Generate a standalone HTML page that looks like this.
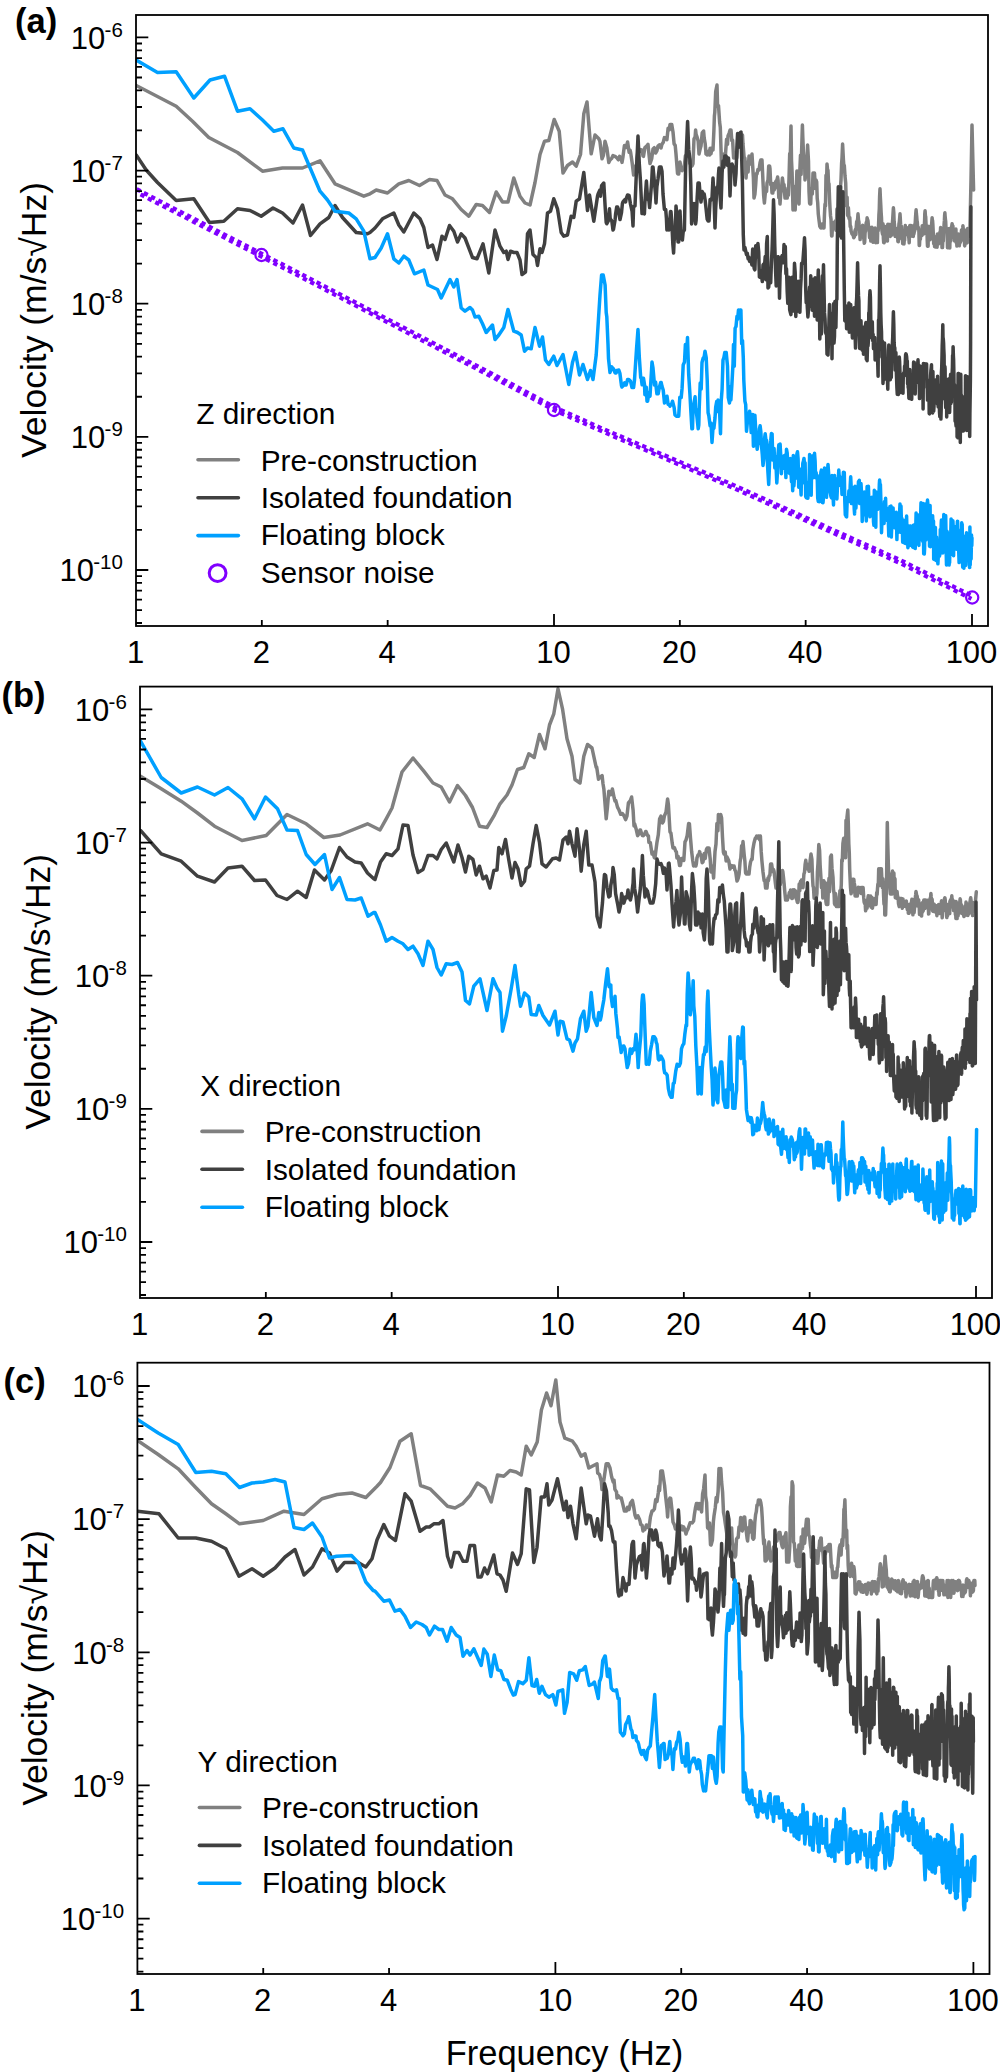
<!DOCTYPE html>
<html><head><meta charset="utf-8"><style>html,body{margin:0;padding:0;background:#fff;width:1000px;height:2072px;overflow:hidden}svg{display:block}</style></head>
<body>
<svg width="1000" height="2072" viewBox="0 0 1000 2072" font-family='"Liberation Sans", sans-serif' fill="#000">
<rect width="1000" height="2072" fill="#fff"/>
<clipPath id="clipa"><rect x="136.0" y="15.0" width="852.0" height="611.0"/></clipPath>
<g clip-path="url(#clipa)">
<polyline points="136.2,85.5 176.2,106.2 192.5,121.2 208.8,137.5 237.5,152.5 262.5,171.2 282.5,168.0 302.5,168.0 320.0,160.8 335.0,183.8 363.8,196.2 370.0,193.8 376.2,190.0 387.5,193.0 398.8,183.8 408.8,180.5 419.5,185.5 429.5,179.5 437.0,180.5 445.0,195.0 452.5,198.8 461.2,209.5 468.8,216.2 476.2,204.5 482.5,205.5 489.5,212.5 496.2,192.0 502.5,202.0 508.0,202.0 513.8,178.0 520.0,196.2 525.0,203.0 530.0,205.0 535.0,182.5 540.0,154.5 544.5,141.2 548.8,140.5 554.2,119.5 559.2,131.2 563.0,173.0 567.5,165.5 572.5,162.0 576.2,166.2 580.5,154.5 583.8,113.8 587.0,102.0 591.2,153.8 595.0,135.0 598.8,138.8 599.9,141.2 602.0,158.8 603.4,155.3 605.0,141.2 606.8,147.6 608.8,162.5 610.0,160.0 611.8,158.2 613.0,155.6 613.5,155.8 615.1,156.4 617.0,158.0 618.3,159.8 619.6,156.4 621.5,160.0 622.0,162.4 623.0,156.6 624.4,145.6 626.1,147.5 627.6,142.0 629.1,152.2 630.0,150.0 630.6,152.2 632.1,162.4 633.6,175.0 635.0,166.1 636.5,165.5 637.0,158.0 637.9,152.1 639.3,152.0 640.0,150.0 640.7,149.5 642.1,150.1 643.0,156.0 643.5,156.3 644.9,147.6 646.3,146.5 648.0,144.4 649.0,154.7 650.0,163.6 651.7,158.7 653.0,149.0 654.3,147.7 655.6,153.0 656.9,150.8 658.0,146.0 659.4,144.8 661.0,148.0 662.0,144.1 663.2,142.5 664.4,137.6 666.0,138.0 666.9,139.7 668.1,128.3 669.3,129.9 670.0,124.4 670.5,124.4 671.7,124.4 673.0,132.0 674.1,143.9 675.2,145.4 676.0,154.0 677.5,173.2 678.0,174.0 678.7,174.0 680.0,162.0 681.0,168.0 682.1,170.7 683.0,168.0 684.3,166.5 685.4,155.7 686.0,156.0 686.5,156.4 687.6,155.7 689.0,154.0 689.8,163.3 690.8,164.6 692.0,166.0 693.0,163.7 694.0,138.8 695.1,137.0 695.6,130.0 696.1,134.4 697.1,137.1 698.2,141.3 699.0,154.0 700.2,148.8 701.0,146.0 702.2,132.8 703.6,131.0 704.2,138.1 705.2,143.7 706.0,154.0 707.2,155.0 708.1,153.0 709.1,150.8 709.6,155.0 710.1,148.2 711.0,153.8 712.0,147.9 713.0,150.0 713.9,130.6 714.4,116.0 714.8,112.6 715.7,91.6 717.0,85.0 717.6,106.4 718.5,105.6 719.6,122.0 720.3,127.2 721.6,168.0 722.1,157.3 723.0,164.6 723.9,153.9 725.0,162.0 725.7,151.2 726.6,139.2 727.5,144.4 728.0,136.0 729.2,133.1 730.1,130.0 731.0,130.0 731.8,140.6 732.6,140.1 733.6,158.0 734.3,158.0 735.1,155.4 736.0,157.3 736.4,154.0 736.8,158.0 737.6,146.4 738.5,145.2 739.6,134.0 740.1,134.0 740.9,134.0 741.7,142.7 742.5,135.1 743.0,144.0 744.1,157.2 744.9,158.1 746.0,178.0 746.5,171.2 747.3,162.0 748.1,171.9 749.0,156.0 749.6,161.8 750.4,163.9 751.2,161.1 752.0,154.0 752.7,166.2 753.4,177.9 754.0,198.0 754.9,194.4 755.7,184.5 756.4,173.4 757.0,174.0 757.9,169.6 759.0,170.0 760.1,162.4 760.8,160.0 761.6,161.6 762.0,160.0 763.0,181.8 763.7,196.1 764.4,203.0 765.2,194.2 765.9,189.5 766.6,191.3 767.0,183.0 768.0,180.0 768.7,166.0 769.6,166.0 770.0,168.8 770.7,184.6 771.4,183.0 772.0,193.0 772.8,193.0 773.5,183.7 774.1,190.1 775.0,188.0 775.5,182.2 776.2,180.9 776.8,180.7 777.6,177.0 778.1,180.6 778.8,197.6 779.5,194.0 780.0,204.0 780.8,193.2 781.4,189.4 782.4,178.0 783.4,186.0 784.0,184.5 785.0,198.0 785.9,198.0 786.5,198.0 787.2,198.0 788.0,188.0 788.4,195.2 789.0,178.9 789.7,153.5 790.3,156.5 791.0,126.0 791.5,160.4 792.1,172.3 793.0,210.0 793.9,195.6 794.5,187.2 795.2,210.0 795.6,186.0 796.3,188.4 796.9,170.9 797.5,173.8 798.1,200.1 799.0,204.0 799.9,168.7 800.5,155.2 801.1,174.5 801.6,152.3 802.4,125.0 802.8,137.1 803.4,151.3 804.0,159.7 804.5,156.5 805.0,180.0 805.7,175.1 806.2,162.7 806.8,165.9 807.6,145.0 808.5,161.2 809.0,191.2 809.6,203.2 810.0,204.0 810.7,204.0 811.2,191.2 811.8,188.5 812.3,193.9 813.0,173.0 813.4,180.8 814.0,185.5 814.5,173.0 815.1,183.1 815.6,188.6 816.0,180.0 816.7,181.8 817.2,198.3 817.7,202.6 818.3,214.1 819.0,220.0 819.8,226.3 820.4,227.2 820.9,228.0 821.4,228.0 822.0,224.0 822.4,225.2 823.0,228.0 823.5,228.0 824.0,228.0 824.5,213.6 825.0,204.0 825.5,205.9 826.0,175.3 826.5,184.6 827.0,164.0 827.5,169.5 828.0,170.2 828.5,182.7 829.0,183.9 829.6,200.0 830.0,207.8 830.5,215.7 831.0,219.2 831.6,236.0 832.0,236.0 832.5,225.1 833.0,227.1 833.5,222.4 834.0,226.7 834.4,228.0 834.9,223.9 835.4,221.0 835.9,230.2 836.4,229.3 836.9,209.0 837.3,222.0 838.0,216.0 838.8,206.5 839.2,209.1 839.7,205.8 840.2,190.6 841.0,180.0 841.6,163.5 842.0,158.2 842.6,144.0 843.4,159.5 843.9,166.7 844.3,165.4 845.0,176.0 845.7,183.0 846.2,201.6 846.6,206.1 847.1,197.3 847.5,214.9 848.0,216.0 848.4,207.8 848.9,217.7 849.3,218.9 849.8,217.6 850.2,226.7 850.7,226.5 851.1,231.1 851.5,232.2 852.0,233.9 852.4,234.4 852.9,235.0 853.3,235.6 853.7,237.8 854.2,237.1 854.6,236.1 855.0,230.6 855.5,229.3 855.9,234.4 856.3,226.2 856.7,221.4 857.2,221.6 857.6,219.1 858.0,213.8 858.5,220.1 858.9,221.6 859.3,228.4 859.7,230.7 860.1,239.6 860.6,232.0 861.0,229.5 861.4,231.1 861.8,236.5 862.2,233.0 862.6,225.3 863.1,229.2 863.5,237.2 863.9,239.0 864.3,243.3 864.7,242.0 865.1,231.9 865.5,231.7 865.9,224.9 866.3,222.3 866.7,223.5 867.1,217.8 867.6,219.8 868.0,220.9 868.4,225.6 868.8,226.7 869.2,231.0 869.6,237.6 870.0,235.0 870.4,233.3 870.8,241.1 871.1,239.9 871.5,231.3 871.9,227.3 872.3,239.3 872.7,240.3 873.1,242.3 873.5,239.8 873.9,236.7 874.3,233.1 874.7,233.5 875.1,228.0 875.4,235.2 875.8,242.7 876.2,236.1 876.6,241.5 877.0,242.6 877.4,242.6 877.7,228.9 878.1,231.0 878.5,227.5 878.9,215.1 879.3,208.8 879.6,196.5 880.0,188.8 880.4,198.1 880.8,205.6 881.1,212.0 881.5,217.9 881.9,230.3 882.3,233.0 882.6,234.4 883.0,223.8 883.4,238.7 883.7,242.6 884.1,242.7 884.5,241.5 884.9,227.2 885.2,226.5 885.6,238.5 886.0,233.3 886.3,233.4 886.7,234.3 887.0,239.0 887.4,241.1 887.8,224.3 888.1,228.0 888.5,235.0 888.8,224.4 889.2,224.4 889.6,224.5 889.9,236.1 890.3,236.4 890.6,228.7 891.0,226.4 891.3,235.4 891.7,226.1 892.0,226.6 892.4,223.1 892.7,219.2 893.1,212.7 893.4,207.8 893.8,212.4 894.1,221.5 894.5,224.7 894.8,235.2 895.2,236.3 895.5,228.0 895.9,230.4 896.2,231.3 896.6,232.3 896.9,232.2 897.3,237.7 897.6,235.1 897.9,241.5 898.3,241.7 898.6,229.3 899.0,223.7 899.3,222.2 899.6,218.9 900.0,213.8 900.3,218.7 900.6,224.2 901.0,226.6 901.3,226.0 901.7,238.9 902.0,230.7 902.3,235.3 902.7,243.7 903.0,243.8 903.3,234.0 903.6,236.5 904.0,243.9 904.3,239.5 904.6,240.2 905.0,227.1 905.3,225.5 905.6,234.5 905.9,227.5 906.3,231.7 906.6,227.6 906.9,234.6 907.3,232.6 907.6,228.4 907.9,231.2 908.2,234.9 908.5,235.1 908.9,238.5 909.2,242.8 909.5,233.1 909.8,225.5 910.1,225.5 910.5,236.5 910.8,225.5 911.1,225.5 911.4,227.6 911.7,234.8 912.0,235.4 912.4,230.6 912.7,227.4 913.0,226.0 913.3,236.4 913.6,233.3 913.9,233.9 914.2,232.1 914.6,230.9 914.9,224.1 915.2,223.7 915.5,217.8 915.8,213.3 916.1,209.8 916.4,213.8 916.7,216.5 917.0,220.6 917.3,221.8 917.6,226.3 918.0,228.9 918.3,227.3 918.6,229.1 918.9,231.5 919.2,245.4 919.5,245.4 919.8,238.8 920.1,229.9 920.4,239.3 920.7,229.9 921.0,235.2 921.3,234.4 921.6,234.1 921.9,235.6 922.2,225.7 922.5,226.5 922.8,227.9 923.1,233.8 923.4,227.6 923.7,233.9 924.0,233.8 924.3,226.6 924.6,220.7 924.8,213.6 925.1,210.8 925.4,215.7 925.7,216.7 926.0,223.9 926.3,229.0 926.6,225.8 926.9,225.8 927.2,239.8 927.5,246.2 927.8,246.3 928.1,246.3 928.3,234.2 928.6,226.4 928.9,228.8 929.2,230.7 929.5,232.0 929.8,226.5 930.1,239.8 930.4,227.6 930.6,234.8 930.9,232.5 931.2,225.2 931.5,225.7 931.8,222.0 932.1,217.8 932.3,219.7 932.6,220.7 932.9,225.0 933.2,231.5 933.5,236.8 933.7,243.7 934.0,242.9 934.3,243.1 934.6,246.6 934.9,236.8 935.1,246.0 935.4,247.0 935.7,241.5 936.0,245.2 936.3,245.8 936.5,241.6 936.8,238.4 937.1,247.2 937.4,234.1 937.6,237.7 937.9,240.2 938.2,243.9 938.4,244.0 938.7,237.8 939.0,237.7 939.3,237.1 939.5,240.5 939.8,233.8 940.1,231.6 940.3,235.7 940.6,227.6 940.9,243.3 941.2,243.2 941.4,232.7 941.7,232.6 942.0,247.6 942.2,247.6 942.5,247.6 942.8,240.3 943.0,236.1 943.3,241.2 943.6,234.9 943.8,231.0 944.1,224.0 944.4,220.4 944.6,215.7 944.9,212.8 945.1,215.8 945.4,219.1 945.7,221.5 945.9,226.1 946.2,231.3 946.5,229.2 946.7,231.5 947.0,230.8 947.2,232.4 947.5,247.8 947.8,244.4 948.0,234.8 948.3,228.8 948.5,239.3 948.8,239.6 949.1,243.1 949.3,228.5 949.6,230.0 949.8,248.0 950.1,234.2 950.3,235.3 950.6,238.5 950.8,240.9 951.1,235.8 951.4,231.7 951.6,227.6 951.9,225.0 952.1,223.8 952.4,225.8 952.6,225.7 952.9,225.9 953.1,229.3 953.4,232.5 953.6,237.1 953.9,236.4 954.1,237.4 954.4,235.2 954.6,241.0 954.9,231.5 955.1,237.2 955.4,239.9 955.6,234.9 955.9,229.1 956.1,234.7 956.4,243.1 956.6,239.4 956.9,246.1 957.1,245.3 957.4,238.3 957.6,238.8 957.8,239.6 958.1,236.7 958.3,233.9 958.6,237.4 958.8,240.6 959.1,237.1 959.3,245.8 959.6,241.4 959.8,243.3 960.0,239.2 960.3,241.5 960.5,242.1 960.8,235.5 961.0,241.0 961.2,235.2 961.5,230.1 961.7,235.5 962.0,232.6 962.2,231.9 962.4,229.9 962.7,227.9 962.9,225.8 963.2,228.3 963.4,231.5 963.6,233.8 963.9,233.3 964.1,232.0 964.4,237.6 964.6,245.5 964.8,245.8 965.1,234.6 965.3,237.0 965.5,239.6 965.8,233.0 966.0,238.0 966.2,230.1 966.5,242.6 966.7,230.6 966.9,241.6 967.2,242.9 967.4,233.3 967.6,228.5 967.9,232.6 968.1,233.8 968.3,235.8 968.6,228.6 968.8,231.2 969.0,234.0 969.3,236.2 969.5,230.1 969.7,233.4 969.9,231.2 971.0,180.0 972.0,125.0 973.6,190.0" fill="none" stroke="#808080" stroke-width="3.5" stroke-linejoin="round" stroke-linecap="round"/>
<polyline points="136.2,155.0 146.2,170.0 157.5,182.5 176.2,200.5 193.8,198.8 209.5,222.5 223.8,221.2 237.5,208.8 250.0,210.5 261.2,216.2 273.0,208.0 282.5,213.0 293.0,223.0 302.5,205.0 310.5,235.5 320.0,223.8 328.8,217.5 335.0,205.5 342.5,217.5 356.2,232.5 367.5,233.8 370.0,232.5 375.0,228.0 382.5,218.8 393.8,213.0 398.8,225.0 403.8,232.0 413.8,213.0 420.0,218.8 423.8,227.5 428.0,247.5 432.5,245.0 437.0,259.5 442.0,236.2 445.0,239.5 449.5,225.5 453.8,231.2 457.5,242.0 461.2,233.8 465.0,238.0 472.5,257.5 477.0,258.8 483.0,243.8 488.8,273.0 495.0,230.0 500.0,246.2 503.8,252.5 506.2,251.2 508.0,259.5 510.5,251.2 513.8,252.5 517.0,252.5 520.0,260.0 522.0,274.5 525.5,272.0 527.5,233.8 530.0,230.0 533.0,254.5 536.2,257.5 537.5,265.5 540.0,248.8 542.0,252.5 544.5,243.8 547.5,213.0 550.5,211.2 553.8,198.8 557.5,208.8 561.2,232.5 563.8,236.2 567.5,235.0 571.2,216.2 573.8,217.5 576.2,201.2 579.5,198.8 583.8,172.5 587.5,210.5 589.5,195.0 593.8,221.2 597.5,196.2 598.1,194.0 599.9,190.1 600.5,196.2 601.6,185.6 603.8,183.0 605.1,205.8 606.2,222.5 606.8,223.8 608.5,220.5 609.5,208.8 610.2,218.8 611.8,220.8 613.0,230.0 613.5,229.3 615.1,219.7 615.6,214.0 616.7,207.0 617.6,207.0 618.3,209.1 620.0,219.6 621.5,212.7 622.4,203.6 623.0,201.8 624.6,199.9 625.6,202.0 626.1,198.9 627.6,195.0 629.1,195.4 630.4,203.6 632.1,211.5 633.0,226.0 633.6,206.6 635.0,206.0 636.5,169.5 638.0,136.0 639.3,163.9 640.4,180.0 642.0,213.6 643.5,209.0 644.4,214.0 644.9,202.6 646.4,181.0 647.6,198.5 649.0,201.0 649.6,207.6 650.3,199.3 651.7,181.5 652.4,167.0 653.0,167.0 654.4,182.0 655.6,195.3 656.0,203.0 656.9,186.7 658.0,179.0 659.4,167.0 661.0,167.0 662.0,171.4 663.0,194.0 664.4,209.3 665.7,209.4 666.4,218.0 666.9,230.0 668.1,228.1 669.0,230.0 670.5,211.6 671.0,211.6 671.7,220.7 672.9,244.9 673.6,253.0 674.1,241.0 675.2,235.5 676.0,206.0 677.5,220.8 678.0,242.0 678.7,242.0 680.0,211.0 681.0,234.8 682.4,240.0 683.2,231.7 684.4,230.0 685.6,168.0 686.5,148.4 687.6,121.6 688.7,149.4 690.0,160.0 690.8,184.7 691.6,224.0 693.0,214.9 694.0,203.6 695.1,204.0 695.6,224.0 696.1,220.5 697.1,198.9 698.0,183.0 699.2,183.0 700.2,195.9 701.0,202.0 702.2,191.5 703.6,194.0 704.2,194.0 705.2,200.6 706.0,208.0 707.2,219.2 708.1,221.0 709.0,221.0 710.1,199.4 711.0,200.0 712.0,198.4 713.0,178.0 713.9,194.7 715.0,228.0 715.7,208.2 717.0,187.0 717.6,191.0 718.5,173.9 719.0,168.0 719.4,176.0 720.3,199.5 721.0,208.0 722.1,172.9 723.0,161.0 723.9,167.2 724.8,156.0 726.0,156.0 726.6,157.5 727.5,165.2 728.4,158.0 729.2,168.4 730.0,196.0 730.9,172.7 732.0,164.0 732.6,165.4 733.5,168.7 734.3,168.8 735.0,185.0 736.0,173.6 737.0,145.0 737.6,133.4 738.5,147.4 739.6,138.0 740.1,132.8 741.0,132.0 741.7,158.3 742.4,182.0 743.3,235.0 744.0,250.0 744.9,247.3 746.5,254.7 747.3,253.3 748.1,258.8 748.8,257.1 749.6,261.3 750.4,260.8 751.2,261.7 751.9,265.0 752.7,249.1 753.4,261.8 754.2,268.6 754.9,269.8 755.7,245.8 756.4,257.1 757.2,252.3 757.9,243.5 758.7,251.8 759.4,277.0 760.1,277.3 760.8,270.8 761.6,276.3 762.3,281.6 763.0,265.0 763.7,264.0 764.4,267.9 765.2,256.5 765.9,279.7 766.6,244.0 767.3,236.5 768.0,288.1 768.7,287.1 769.4,278.4 770.0,275.1 770.7,282.7 771.4,262.4 772.1,249.1 772.8,227.3 773.5,199.8 774.1,214.4 774.8,246.3 775.5,269.0 776.2,285.9 776.8,274.7 777.5,259.0 778.1,256.7 778.8,258.3 779.5,298.3 780.1,273.0 780.8,264.0 781.4,257.2 782.1,255.6 782.7,262.7 783.4,260.4 784.0,244.6 784.6,262.9 785.3,246.6 785.9,273.8 786.5,268.8 787.2,291.6 787.8,303.3 788.4,300.4 789.0,277.3 789.7,309.9 790.3,312.2 790.9,314.6 791.5,304.1 792.1,277.3 792.7,299.6 793.3,311.1 793.9,287.1 794.5,263.3 795.2,273.0 795.8,316.4 796.3,298.1 796.9,288.9 797.5,311.2 798.1,281.2 798.7,297.8 799.3,302.4 799.9,312.3 800.5,288.9 801.1,278.9 801.6,263.3 802.2,263.8 802.8,262.7 803.4,254.5 804.0,246.2 804.5,237.8 805.1,250.7 805.7,289.3 806.2,302.6 806.8,297.5 807.4,308.9 807.9,316.9 808.5,309.8 809.0,295.6 809.6,287.1 810.1,306.2 810.7,275.7 811.2,285.2 811.8,295.4 812.3,310.2 812.9,305.8 813.4,279.3 814.0,297.7 814.5,316.2 815.1,277.8 815.6,292.6 816.1,305.2 816.7,307.8 817.2,319.9 817.7,287.5 818.3,269.9 818.8,289.8 819.3,295.0 819.8,338.9 820.4,324.8 820.9,299.9 821.4,334.0 821.9,292.7 822.4,275.7 823.0,283.3 823.5,264.8 824.0,289.1 824.5,312.9 825.0,318.8 825.5,332.1 826.0,333.8 826.5,330.1 827.0,354.0 827.5,354.5 828.0,355.0 828.5,339.5 829.0,320.6 829.5,304.6 830.0,332.0 830.5,342.9 831.0,334.0 831.5,316.1 832.0,358.7 832.5,312.9 833.0,335.3 833.5,303.7 834.0,343.0 834.5,336.1 834.9,301.6 835.4,313.1 835.9,327.5 836.4,300.2 836.9,299.2 837.3,243.9 837.8,216.6 838.3,186.8 838.8,215.3 839.2,234.6 839.7,235.6 840.2,219.0 840.6,186.8 841.1,222.2 841.6,238.1 842.0,236.6 842.5,224.5 843.0,191.8 843.4,222.8 843.9,260.3 844.3,290.7 844.8,320.7 845.3,321.1 845.7,305.7 846.2,313.4 846.6,328.8 847.1,324.0 847.5,322.8 848.0,317.8 848.4,313.5 848.9,303.1 849.3,332.3 849.8,314.2 850.2,304.3 850.7,304.7 851.1,315.4 851.5,317.6 852.0,328.3 852.4,337.9 852.9,315.6 853.3,324.6 853.7,310.1 854.2,307.8 854.6,308.5 855.0,330.2 855.5,348.1 855.9,330.0 856.3,303.9 856.7,297.7 857.2,279.1 857.6,262.8 858.0,279.9 858.5,295.9 858.9,300.6 859.3,336.3 859.7,348.5 860.1,320.2 860.6,324.1 861.0,320.8 861.4,340.0 861.8,348.5 862.2,350.2 862.6,343.3 863.1,337.2 863.5,354.2 863.9,327.0 864.3,330.3 864.7,342.4 865.1,335.6 865.5,325.4 865.9,322.4 866.3,359.2 866.7,356.2 867.1,360.7 867.6,342.7 868.0,346.0 868.4,340.9 868.8,312.7 869.2,312.1 869.6,297.7 870.0,290.8 870.4,297.0 870.8,320.5 871.1,336.3 871.5,337.8 871.9,331.2 872.3,321.8 872.7,340.6 873.1,334.3 873.5,348.7 873.9,348.4 874.3,342.4 874.7,337.5 875.1,359.9 875.4,351.6 875.8,346.5 876.2,344.3 876.6,353.7 877.0,344.8 877.4,358.8 877.7,362.0 878.1,376.2 878.5,320.1 878.9,322.2 879.3,307.4 879.6,284.0 880.0,265.8 880.4,287.0 880.8,313.5 881.1,324.3 881.5,331.5 881.9,357.2 882.3,341.1 882.6,358.9 883.0,383.5 883.4,376.8 883.7,361.2 884.1,359.6 884.5,342.9 884.9,350.0 885.2,378.9 885.6,367.6 886.0,359.3 886.3,372.2 886.7,368.6 887.0,372.3 887.4,378.5 887.8,389.2 888.1,366.5 888.5,356.6 888.8,344.9 889.2,363.4 889.6,376.4 889.9,371.9 890.3,379.7 890.6,376.0 891.0,365.7 891.3,377.4 891.7,354.0 892.0,359.7 892.4,343.2 892.7,337.8 893.1,322.8 893.4,311.8 893.8,324.2 894.1,342.2 894.5,349.0 894.8,347.8 895.2,370.1 895.5,367.8 895.9,352.6 896.2,368.0 896.6,379.2 896.9,387.6 897.3,394.3 897.6,390.9 897.9,392.6 898.3,394.6 898.6,378.8 899.0,369.3 899.3,357.0 899.6,361.4 900.0,372.9 900.3,384.9 900.6,381.1 901.0,382.0 901.3,392.6 901.7,378.3 902.0,386.7 902.3,380.2 902.7,384.6 903.0,393.3 903.3,374.3 903.6,373.1 904.0,375.4 904.3,375.7 904.6,366.0 905.0,369.9 905.3,361.9 905.6,354.7 905.9,353.8 906.3,354.7 906.6,356.5 906.9,360.6 907.3,361.1 907.6,383.9 907.9,381.1 908.2,387.6 908.5,388.0 908.9,398.3 909.2,398.4 909.5,398.5 909.8,369.6 910.1,396.2 910.5,382.0 910.8,376.1 911.1,391.5 911.4,397.8 911.7,399.3 912.0,382.5 912.4,391.9 912.7,390.6 913.0,389.7 913.3,376.9 913.6,362.0 913.9,377.9 914.2,362.2 914.6,376.4 914.9,377.9 915.2,394.0 915.5,372.0 915.8,383.3 916.1,372.3 916.4,377.5 916.7,366.2 917.0,371.5 917.3,373.7 917.6,364.9 918.0,359.8 918.3,367.3 918.6,373.7 918.9,378.1 919.2,384.4 919.5,398.6 919.8,379.9 920.1,365.9 920.4,378.3 920.7,378.5 921.0,388.2 921.3,387.2 921.6,374.8 921.9,390.4 922.2,383.7 922.5,391.2 922.8,375.3 923.1,408.9 923.4,363.6 923.7,369.1 924.0,363.7 924.3,363.8 924.6,370.4 924.8,363.8 925.1,376.3 925.4,378.0 925.7,374.9 926.0,364.0 926.3,368.4 926.6,364.1 926.9,387.8 927.2,384.6 927.5,400.1 927.8,380.1 928.1,387.5 928.3,397.1 928.6,391.0 928.9,385.8 929.2,413.6 929.5,413.8 929.8,394.6 930.1,407.1 930.4,383.7 930.6,375.6 930.9,370.8 931.2,367.9 931.5,364.7 931.8,388.8 932.1,387.6 932.3,408.7 932.6,412.9 932.9,371.4 933.2,385.9 933.5,394.7 933.7,411.2 934.0,405.9 934.3,394.8 934.6,383.7 934.9,381.3 935.1,388.8 935.4,379.9 935.7,397.2 936.0,393.8 936.3,397.8 936.5,385.6 936.8,383.2 937.1,383.1 937.4,403.9 937.6,376.3 937.9,392.1 938.2,407.0 938.4,394.5 938.7,385.0 939.0,403.0 939.3,401.6 939.5,412.2 939.8,416.6 940.1,414.4 940.3,400.9 940.6,405.4 940.9,419.1 941.2,409.1 941.4,373.0 941.7,368.2 942.0,356.4 942.2,345.8 942.5,338.0 942.8,324.8 943.0,337.3 943.3,339.1 943.6,343.2 943.8,349.3 944.1,355.5 944.4,399.1 944.6,382.5 944.9,366.5 945.1,368.8 945.4,401.0 945.7,407.6 945.9,398.9 946.2,379.2 946.5,387.1 946.7,417.0 947.0,401.4 947.2,384.5 947.5,394.6 947.8,408.0 948.0,396.5 948.3,382.6 948.5,378.9 948.8,393.8 949.1,384.3 949.3,403.7 949.6,412.4 949.8,406.5 950.1,384.0 950.3,381.4 950.6,374.3 950.8,403.6 951.1,389.2 951.4,402.2 951.6,381.6 951.9,381.2 952.1,374.1 952.4,367.3 952.6,355.3 952.9,356.7 953.1,346.8 953.4,356.1 953.6,359.6 953.9,374.2 954.1,394.1 954.4,384.3 954.6,385.1 954.9,389.6 955.1,421.0 955.4,421.5 955.6,406.8 955.9,424.2 956.1,426.2 956.4,420.9 956.6,402.0 956.9,405.0 957.1,437.0 957.4,425.5 957.6,437.8 957.8,426.7 958.1,373.5 958.3,396.7 958.6,373.6 958.8,407.0 959.1,374.2 959.3,414.7 959.6,395.2 959.8,417.8 960.0,416.0 960.3,442.6 960.5,404.4 960.8,374.3 961.0,408.9 961.2,394.4 961.5,405.1 961.7,407.4 962.0,402.1 962.2,399.5 962.4,420.1 962.7,396.8 962.9,402.2 963.2,417.7 963.4,431.0 963.6,416.3 963.9,402.4 964.1,400.0 964.4,406.9 964.6,423.9 964.8,417.3 965.1,409.8 965.3,415.8 965.5,375.8 965.8,375.9 966.0,376.0 966.2,404.3 966.5,384.8 966.7,430.4 966.9,393.9 967.2,410.3 967.4,418.0 967.6,376.8 967.9,382.1 968.1,404.8 968.3,393.4 968.6,388.4 968.8,406.7 969.0,421.5 969.3,407.9 969.5,412.8 969.7,436.5 969.9,413.9 970.2,394.4 970.4,379.8 970.6,342.1 970.9,206.8" fill="none" stroke="#404040" stroke-width="3.5" stroke-linejoin="round" stroke-linecap="round"/>
<polyline points="136.2,60.0 157.5,72.5 176.2,71.8 193.8,98.0 210.0,80.0 224.5,76.2 237.5,111.2 250.0,108.8 262.5,120.0 273.8,131.2 283.0,128.8 293.8,148.0 302.5,150.0 320.0,191.2 327.5,200.0 335.0,211.2 348.8,213.0 356.2,218.8 363.8,231.2 370.0,258.8 375.0,257.5 381.2,248.0 387.5,233.8 393.8,258.8 398.8,263.0 403.8,256.2 408.8,260.0 414.5,273.8 423.8,270.0 428.0,285.0 437.5,289.5 441.2,298.0 450.0,279.5 453.8,287.0 457.0,279.5 461.2,308.0 465.0,311.2 470.0,307.5 472.5,310.0 475.0,317.0 478.8,316.2 482.5,323.8 486.2,332.5 492.5,325.0 495.0,339.5 498.8,335.0 503.8,327.5 508.0,309.5 513.8,331.2 517.5,332.5 521.2,335.0 524.5,351.2 527.5,348.0 531.2,348.8 535.0,327.5 539.5,346.2 542.5,337.0 545.5,360.0 548.8,364.5 553.8,356.2 557.0,365.5 560.0,360.0 563.0,354.5 565.5,367.5 568.8,384.5 572.5,362.5 575.5,352.5 579.5,375.0 583.0,364.5 587.5,379.5 590.5,370.5 593.0,379.5 596.2,355.0 600.0,295.0 601.6,275.0 603.2,275.0 605.1,285.0 606.2,312.5 606.8,316.7 608.0,343.8 608.5,358.6 610.0,372.5 611.8,366.9 613.0,368.8 613.5,368.8 615.1,373.0 616.2,373.0 616.7,370.4 618.3,370.1 618.8,370.0 619.9,373.2 621.5,385.7 622.0,387.0 623.0,385.8 624.6,382.9 625.0,385.0 626.1,385.1 627.6,379.5 628.8,379.5 630.6,381.3 632.0,387.5 633.6,387.5 634.5,380.0 635.0,372.0 636.5,349.3 638.0,329.5 639.3,357.2 640.7,377.6 641.2,377.5 642.1,384.8 643.5,378.2 644.5,384.5 644.9,394.7 646.3,387.3 647.0,401.2 647.6,401.2 649.0,392.2 650.0,396.2 652.0,362.0 653.0,368.1 654.5,385.0 655.6,382.2 656.9,393.8 657.5,393.8 658.2,393.7 659.4,387.2 660.7,382.5 661.2,382.5 662.0,386.4 663.2,390.0 664.5,403.0 665.7,399.4 667.0,396.2 668.1,404.2 669.3,404.9 670.0,406.2 670.5,404.8 671.7,403.8 672.5,401.2 674.1,407.4 675.0,415.0 676.4,416.2 677.5,416.2 678.0,416.2 678.7,416.2 679.8,397.3 681.2,397.5 682.1,388.2 683.2,364.9 684.5,362.0 685.4,344.4 686.5,356.3 687.5,337.5 688.7,374.7 690.0,395.5 690.8,410.4 691.9,428.8 692.5,428.8 693.0,410.2 694.0,403.1 695.1,396.8 695.5,408.0 696.1,410.2 697.1,418.2 698.2,428.8 698.8,425.0 699.2,408.7 700.2,383.0 701.2,389.0 702.0,362.5 703.2,358.0 704.2,356.8 705.0,351.2 706.2,357.5 707.2,380.1 708.1,412.9 708.8,415.5 710.1,425.7 711.0,423.2 712.0,442.5 712.9,429.4 713.9,428.2 715.0,418.0 715.7,407.1 716.7,401.6 717.6,411.6 718.0,400.0 718.5,405.0 719.4,407.0 720.5,433.8 721.2,401.4 722.1,389.1 723.0,360.0 723.9,357.6 724.8,352.5 725.7,354.2 726.2,352.5 727.5,366.2 728.3,397.6 729.5,403.0 730.1,386.7 730.9,399.9 731.8,386.2 733.0,363.8 733.5,344.6 734.3,366.2 735.1,328.2 736.0,326.5 737.0,316.2 737.6,319.4 738.5,310.0 739.3,315.6 740.1,310.0 740.5,310.0 740.9,310.0 741.7,343.6 742.5,340.6 743.3,357.8 743.8,380.0 744.9,401.2 745.7,404.6 746.5,431.3 747.3,423.1 748.1,420.2 748.8,415.8 749.6,411.3 750.4,416.5 751.2,432.6 751.9,423.0 752.7,414.6 753.4,446.3 754.2,439.2 754.9,415.2 755.7,429.5 756.4,442.2 757.2,449.3 757.9,443.1 758.7,443.6 759.4,428.8 760.1,425.8 760.8,431.3 761.6,446.9 762.3,454.7 763.0,465.5 763.7,459.0 764.4,439.7 765.2,433.7 765.9,439.6 766.6,440.4 767.3,461.0 768.0,473.2 768.7,484.4 769.4,467.4 770.0,446.5 770.7,440.9 771.4,433.5 772.1,433.9 772.8,460.1 773.5,455.8 774.1,448.5 774.8,467.9 775.5,456.4 776.2,469.6 776.8,482.9 777.5,471.8 778.1,453.7 778.8,444.8 779.5,454.1 780.1,444.1 780.8,457.1 781.4,473.7 782.1,463.3 782.7,457.5 783.4,465.4 784.0,455.8 784.6,468.4 785.3,455.0 785.9,477.6 786.5,449.2 787.2,453.1 787.8,464.8 788.4,459.2 789.0,472.8 789.7,473.5 790.3,458.4 790.9,470.0 791.5,481.7 792.1,474.7 792.7,490.8 793.3,455.6 793.9,485.9 794.5,477.6 795.2,478.8 795.8,460.1 796.3,466.0 796.9,453.9 797.5,451.8 798.1,458.9 798.7,487.2 799.3,473.1 799.9,478.5 800.5,483.8 801.1,495.0 801.6,468.7 802.2,483.2 802.8,463.2 803.4,461.3 804.0,458.4 804.5,464.4 805.1,462.8 805.7,496.5 806.2,497.6 806.8,497.9 807.4,488.2 807.9,498.3 808.5,482.1 809.0,487.2 809.6,454.6 810.1,477.3 810.7,474.0 811.2,495.2 811.8,456.1 812.3,456.0 812.9,477.8 813.4,472.4 814.0,466.5 814.5,453.2 815.1,460.8 815.6,477.8 816.1,472.4 816.7,478.4 817.2,475.5 817.7,498.0 818.3,501.5 818.8,489.8 819.3,501.8 819.8,481.2 820.4,479.5 820.9,472.1 821.4,470.1 821.9,491.8 822.4,502.6 823.0,502.7 823.5,497.1 824.0,479.9 824.5,468.0 825.0,472.9 825.5,493.0 826.0,494.1 826.5,497.3 827.0,485.7 827.5,471.4 828.0,464.4 828.5,471.6 829.0,479.7 829.5,486.4 830.0,491.2 830.5,493.8 831.0,496.7 831.5,497.9 832.0,475.5 832.5,484.1 833.0,495.3 833.5,505.0 834.0,479.0 834.5,475.6 834.9,498.0 835.4,497.1 835.9,493.5 836.4,491.9 836.9,498.9 837.3,490.2 837.8,478.3 838.3,479.4 838.8,470.1 839.2,476.0 839.7,479.5 840.2,481.2 840.6,485.7 841.1,477.6 841.6,483.5 842.0,494.4 842.5,483.4 843.0,480.6 843.4,472.2 843.9,488.1 844.3,472.6 844.8,501.3 845.3,514.9 845.7,508.1 846.2,516.6 846.6,516.9 847.1,502.9 847.5,497.4 848.0,500.1 848.4,500.7 848.9,490.8 849.3,493.7 849.8,501.5 850.2,485.5 850.7,476.8 851.1,485.2 851.5,503.6 852.0,491.3 852.4,495.1 852.9,487.7 853.3,495.7 853.7,490.0 854.2,508.7 854.6,514.0 855.0,486.2 855.5,493.3 855.9,508.1 856.3,500.8 856.7,495.3 857.2,487.4 857.6,488.7 858.0,490.2 858.5,481.4 858.9,493.1 859.3,480.2 859.7,503.6 860.1,483.6 860.6,502.9 861.0,483.6 861.4,490.6 861.8,497.5 862.2,521.4 862.6,505.1 863.1,506.3 863.5,511.3 863.9,500.0 864.3,491.9 864.7,514.8 865.1,511.7 865.5,508.8 865.9,510.0 866.3,521.0 866.7,505.0 867.1,486.5 867.6,508.2 868.0,511.4 868.4,486.2 868.8,498.2 869.2,514.7 869.6,508.7 870.0,516.8 870.4,507.0 870.8,502.0 871.1,498.8 871.5,502.4 871.9,497.2 872.3,498.8 872.7,503.1 873.1,498.8 873.5,521.7 873.9,525.2 874.3,490.2 874.7,507.3 875.1,518.2 875.4,516.1 875.8,527.3 876.2,492.1 876.6,505.1 877.0,494.1 877.4,495.9 877.7,509.3 878.1,504.9 878.5,498.5 878.9,498.0 879.3,484.7 879.6,480.1 880.0,485.1 880.4,484.6 880.8,498.0 881.1,509.5 881.5,532.7 881.9,521.7 882.3,509.6 882.6,521.2 883.0,519.8 883.4,520.7 883.7,504.2 884.1,523.5 884.5,501.5 884.9,501.6 885.2,511.7 885.6,498.2 886.0,515.0 886.3,507.7 886.7,509.5 887.0,511.4 887.4,520.6 887.8,515.9 888.1,509.1 888.5,527.3 888.8,536.0 889.2,535.5 889.6,528.5 889.9,506.6 890.3,515.4 890.6,516.1 891.0,506.0 891.3,537.1 891.7,527.5 892.0,521.6 892.4,514.3 892.7,514.7 893.1,507.9 893.4,520.3 893.8,520.3 894.1,520.9 894.5,523.5 894.8,527.8 895.2,517.7 895.5,521.5 895.9,514.6 896.2,512.3 896.6,525.0 896.9,539.6 897.3,521.3 897.6,526.0 897.9,532.5 898.3,517.1 898.6,520.1 899.0,525.9 899.3,516.6 899.6,512.6 900.0,503.9 900.3,532.3 900.6,516.4 901.0,506.0 901.3,517.6 901.7,518.0 902.0,530.9 902.3,525.2 902.7,542.2 903.0,526.3 903.3,520.1 903.6,542.6 904.0,521.7 904.3,534.9 904.6,543.1 905.0,543.2 905.3,543.4 905.6,525.4 905.9,522.3 906.3,538.2 906.6,516.0 906.9,529.0 907.3,542.2 907.6,538.9 907.9,547.8 908.2,539.5 908.5,530.3 908.9,526.1 909.2,530.4 909.5,542.6 909.8,545.4 910.1,525.9 910.5,526.1 910.8,528.5 911.1,533.2 911.4,526.7 911.7,529.7 912.0,529.6 912.4,527.8 912.7,547.1 913.0,547.3 913.3,525.3 913.6,547.6 913.9,530.0 914.2,535.5 914.6,527.8 914.9,524.4 915.2,548.6 915.5,535.8 915.8,525.9 916.1,513.1 916.4,531.0 916.7,531.8 917.0,535.4 917.3,519.7 917.6,514.8 918.0,533.8 918.3,535.9 918.6,544.3 918.9,545.4 919.2,526.4 919.5,516.3 919.8,540.1 920.1,539.8 920.4,529.2 920.7,513.4 921.0,502.8 921.3,519.3 921.6,521.4 921.9,537.3 922.2,527.5 922.5,527.0 922.8,541.5 923.1,503.4 923.4,531.2 923.7,553.7 924.0,553.9 924.3,554.0 924.6,548.8 924.8,529.0 925.1,504.1 925.4,504.2 925.7,519.8 926.0,539.9 926.3,525.7 926.6,508.5 926.9,515.9 927.2,504.4 927.5,500.1 927.8,503.2 928.1,509.7 928.3,520.3 928.6,529.7 928.9,520.5 929.2,514.2 929.5,546.2 929.8,534.0 930.1,505.6 930.4,546.7 930.6,520.6 930.9,531.3 931.2,533.7 931.5,526.8 931.8,524.5 932.1,533.3 932.3,516.0 932.6,515.9 932.9,522.0 933.2,538.2 933.5,520.9 933.7,559.2 934.0,559.3 934.3,557.2 934.6,559.5 934.9,557.8 935.1,559.8 935.4,527.6 935.7,560.0 936.0,547.5 936.3,560.6 936.5,536.9 936.8,542.1 937.1,553.5 937.4,556.0 937.6,559.8 937.9,563.8 938.2,558.0 938.4,554.2 938.7,547.6 939.0,552.9 939.3,552.5 939.5,556.2 939.8,554.4 940.1,542.1 940.3,529.5 940.6,536.3 940.9,541.3 941.2,523.5 941.4,520.0 941.7,526.6 942.0,545.6 942.2,522.3 942.5,523.7 942.8,552.9 943.0,544.1 943.3,520.3 943.6,533.8 943.8,514.5 944.1,531.7 944.4,548.3 944.6,520.3 944.9,540.7 945.1,540.7 945.4,516.6 945.7,515.7 945.9,527.2 946.2,552.7 946.5,564.9 946.7,558.4 947.0,531.2 947.2,531.8 947.5,543.8 947.8,536.1 948.0,533.5 948.3,545.9 948.5,543.2 948.8,551.3 949.1,565.0 949.3,563.0 949.6,562.6 949.8,552.8 950.1,539.5 950.3,555.0 950.6,552.1 950.8,532.5 951.1,518.9 951.4,536.5 951.6,531.4 951.9,527.9 952.1,554.3 952.4,544.8 952.6,537.9 952.9,520.8 953.1,525.3 953.4,542.8 953.6,555.8 953.9,527.0 954.1,528.1 954.4,526.4 954.6,527.6 954.9,528.8 955.1,530.9 955.4,536.5 955.6,538.7 955.9,536.1 956.1,528.4 956.4,534.7 956.6,549.3 956.9,536.7 957.1,528.9 957.4,521.2 957.6,521.3 957.8,530.8 958.1,529.4 958.3,535.2 958.6,544.8 958.8,553.6 959.1,562.6 959.3,556.5 959.6,532.4 959.8,538.9 960.0,555.4 960.3,540.9 960.5,553.1 960.8,560.5 961.0,538.4 961.2,544.0 961.5,540.6 961.7,522.8 962.0,532.7 962.2,524.2 962.4,555.6 962.7,567.3 962.9,542.8 963.2,542.5 963.4,552.3 963.6,559.9 963.9,568.3 964.1,545.3 964.4,540.3 964.6,556.0 964.8,551.6 965.1,558.4 965.3,535.9 965.5,565.6 965.8,564.8 966.0,559.4 966.2,548.4 966.5,532.7 966.7,553.5 966.9,554.4 967.2,549.3 967.4,554.3 967.6,545.1 967.9,546.2 968.1,537.3 968.3,542.4 968.6,543.8 968.8,547.0 969.0,540.9 969.3,552.8 969.5,567.5 969.7,567.4 969.9,527.1 970.2,565.1 970.4,544.5 970.6,556.5 970.9,556.6 971.1,558.9 971.3,548.1 971.5,535.1 971.8,545.6 972.0,537.9" fill="none" stroke="#00A0FF" stroke-width="3.5" stroke-linejoin="round" stroke-linecap="round"/>
<polyline points="136.6,189.2 300.6,273.8 520.6,388.8 554.6,407.2 600.6,427.8 730.6,483.8 900.6,560.2 972.6,596.2" fill="none" stroke="#8000FF" stroke-width="4.2" stroke-dasharray="4.4 3.7" stroke-dashoffset="0"/>
<polyline points="135.4,191.8 299.4,276.2 519.4,391.2 553.4,409.8 599.4,430.2 729.4,486.2 899.4,562.8 971.4,598.8" fill="none" stroke="#8000FF" stroke-width="4.2" stroke-dasharray="4.4 3.9" stroke-dashoffset="2.5"/>
</g>
<circle cx="261.5" cy="255.0" r="6.1" fill="none" stroke="#8000FF" stroke-width="2.2"/>
<circle cx="554" cy="410" r="6.1" fill="none" stroke="#8000FF" stroke-width="2.2"/>
<circle cx="972.2" cy="597.5" r="6.1" fill="none" stroke="#8000FF" stroke-width="2.2"/>
<rect x="136.00" y="15.00" width="852.00" height="611.00" fill="none" stroke="#000" stroke-width="1.8"/>
<path d="M136.00 622.99h6.0 M136.00 610.08h6.0 M136.00 599.54h6.0 M136.00 590.63h6.0 M136.00 582.90h6.0 M136.00 576.09h6.0 M136.00 570.00h12.3 M136.00 529.92h6.0 M136.00 506.47h6.0 M136.00 489.84h6.0 M136.00 476.93h6.0 M136.00 466.39h6.0 M136.00 457.48h6.0 M136.00 449.75h6.0 M136.00 442.94h6.0 M136.00 436.85h12.3 M136.00 396.77h6.0 M136.00 373.32h6.0 M136.00 356.69h6.0 M136.00 343.78h6.0 M136.00 333.24h6.0 M136.00 324.33h6.0 M136.00 316.60h6.0 M136.00 309.79h6.0 M136.00 303.70h12.3 M136.00 263.62h6.0 M136.00 240.17h6.0 M136.00 223.54h6.0 M136.00 210.63h6.0 M136.00 200.09h6.0 M136.00 191.18h6.0 M136.00 183.45h6.0 M136.00 176.64h6.0 M136.00 170.55h12.3 M136.00 130.47h6.0 M136.00 107.02h6.0 M136.00 90.39h6.0 M136.00 77.48h6.0 M136.00 66.94h6.0 M136.00 58.03h6.0 M136.00 50.30h6.0 M136.00 43.49h6.0 M136.00 37.40h12.3 M261.83 626.00v-6 M387.66 626.00v-6 M554.00 626.00v-12 M679.83 626.00v-6 M805.66 626.00v-6 M972.00 626.00v-12" stroke="#000" stroke-width="1.8" fill="none"/>
<text x="122.80" y="569.20" font-size="20.5" text-anchor="end">-10</text>
<text x="93.88" y="581.30" font-size="31" text-anchor="end">10</text>
<text x="122.80" y="436.05" font-size="20.5" text-anchor="end">-9</text>
<text x="105.28" y="448.15" font-size="31" text-anchor="end">10</text>
<text x="122.80" y="302.90" font-size="20.5" text-anchor="end">-8</text>
<text x="105.28" y="315.00" font-size="31" text-anchor="end">10</text>
<text x="122.80" y="169.75" font-size="20.5" text-anchor="end">-7</text>
<text x="105.28" y="181.85" font-size="31" text-anchor="end">10</text>
<text x="122.80" y="36.60" font-size="20.5" text-anchor="end">-6</text>
<text x="105.28" y="48.70" font-size="31" text-anchor="end">10</text>
<text x="135.50" y="662.90" font-size="31" text-anchor="middle">1</text>
<text x="261.33" y="662.90" font-size="31" text-anchor="middle">2</text>
<text x="387.16" y="662.90" font-size="31" text-anchor="middle">4</text>
<text x="553.50" y="662.90" font-size="31" text-anchor="middle">10</text>
<text x="679.33" y="662.90" font-size="31" text-anchor="middle">20</text>
<text x="805.16" y="662.90" font-size="31" text-anchor="middle">40</text>
<text x="971.50" y="662.90" font-size="31" text-anchor="middle">100</text>
<text transform="translate(46.00,320.00) rotate(-90)" font-size="35.5" text-anchor="middle">Velocity (m/s√Hz)</text>
<text x="15.00" y="32.60" font-size="34.5" font-weight="bold">(a)</text>
<text x="196.20" y="424.00" font-size="29.8">Z direction</text>
<line x1="198.00" y1="459.80" x2="238.40" y2="459.80" stroke="#808080" stroke-width="3.6" stroke-linecap="round"/>
<text x="260.70" y="470.50" font-size="29.8">Pre-construction</text>
<line x1="198.00" y1="497.70" x2="238.40" y2="497.70" stroke="#404040" stroke-width="3.6" stroke-linecap="round"/>
<text x="260.70" y="507.90" font-size="29.8">Isolated foundation</text>
<line x1="198.00" y1="535.60" x2="238.40" y2="535.60" stroke="#00A0FF" stroke-width="3.6" stroke-linecap="round"/>
<text x="260.70" y="545.30" font-size="29.8">Floating block</text>
<circle cx="217.60" cy="573.10" r="8.4" fill="none" stroke="#8000FF" stroke-width="3"/>
<text x="260.70" y="582.70" font-size="29.8">Sensor noise</text>
<clipPath id="clipb"><rect x="140.0" y="686.6" width="852.0" height="611.4"/></clipPath>
<g clip-path="url(#clipb)">
<polyline points="140.5,776.2 160.0,788.0 181.2,801.2 197.5,813.0 214.5,826.2 242.0,840.5 266.2,835.5 287.0,814.5 306.2,823.8 323.8,837.5 340.0,835.0 367.5,823.8 380.0,830.0 386.2,818.8 392.0,808.0 397.0,790.0 402.0,772.0 413.0,758.0 423.8,771.2 433.0,783.0 441.2,787.0 449.5,802.0 457.5,785.5 465.5,795.5 472.5,807.5 479.5,826.2 487.0,827.5 493.8,816.2 500.0,803.8 507.0,795.0 512.0,785.0 517.5,769.5 523.8,767.5 528.8,753.8 534.2,757.5 539.5,734.5 545.0,748.8 549.5,725.0 553.8,713.8 558.0,688.8 562.5,708.8 567.0,738.8 572.0,756.2 575.0,779.5 580.0,783.0 583.8,756.2 587.5,744.5 592.0,748.0 596.2,767.5 596.7,767.2 598.5,779.2 600.3,777.0 602.1,775.5 603.0,783.8 603.9,789.3 605.6,810.8 606.2,818.8 607.4,807.6 608.8,791.2 610.8,794.7 612.4,789.0 614.2,798.0 615.0,801.0 615.8,800.6 617.5,807.1 619.0,810.0 620.7,814.3 622.4,813.6 623.9,815.6 625.6,819.6 627.0,815.8 628.4,803.0 630.1,801.0 631.6,797.0 633.1,810.2 634.0,826.0 634.6,823.7 636.1,828.9 637.6,835.6 639.0,833.8 640.0,830.0 640.5,830.0 641.9,834.5 642.4,835.6 643.3,835.7 644.7,833.9 645.6,831.6 646.1,831.6 647.5,835.3 648.4,836.0 648.9,842.3 650.3,842.4 652.0,854.0 653.0,852.1 654.3,857.5 655.0,858.0 655.7,852.1 657.0,842.1 658.3,834.8 659.6,819.0 660.9,816.1 662.4,823.0 663.4,821.6 664.4,816.0 666.0,812.1 667.6,799.0 668.4,804.4 670.0,832.0 670.9,832.9 672.1,842.4 673.0,848.0 674.5,847.7 675.7,851.2 676.4,852.0 676.9,857.9 678.1,856.4 679.6,865.6 680.4,865.6 681.5,858.5 683.0,859.0 683.8,860.4 685.0,841.9 686.0,840.0 687.2,835.5 688.6,823.6 689.4,823.7 690.5,838.2 691.0,844.0 691.6,851.3 692.7,860.3 693.6,866.0 694.8,864.1 695.9,866.0 696.4,863.6 697.0,857.8 698.0,855.0 699.1,854.0 699.6,851.6 700.1,853.3 701.1,855.7 702.2,862.7 703.0,862.0 704.2,853.4 705.2,858.5 706.4,849.6 707.2,848.0 708.2,848.0 709.0,848.0 710.2,859.0 711.0,872.0 712.1,866.1 713.1,872.7 713.6,878.0 714.1,868.2 715.0,851.6 716.0,844.0 716.9,823.5 717.9,830.7 718.4,814.4 718.8,818.0 719.7,822.0 720.7,814.4 721.6,818.0 722.5,837.4 723.4,852.1 724.0,854.0 725.2,852.0 726.1,860.9 727.0,857.0 727.6,858.4 728.8,860.8 730.0,869.0 730.6,867.6 731.5,865.6 732.3,867.1 733.0,866.0 734.1,866.0 734.9,870.2 735.6,871.0 737.0,881.0 737.5,880.3 738.3,878.0 739.1,874.1 740.0,862.8 740.4,859.6 740.8,858.1 741.6,845.8 742.5,847.6 743.0,841.6 744.1,853.9 744.9,861.4 745.6,873.0 746.5,874.0 747.3,872.1 748.1,874.0 749.0,874.0 749.7,867.0 750.5,862.2 751.6,859.0 752.1,859.3 752.8,849.9 754.0,843.0 755.2,838.4 755.9,837.8 756.7,836.0 757.6,838.0 758.2,836.0 758.9,836.0 759.7,839.8 760.4,836.0 761.2,851.4 761.9,860.8 763.0,872.0 764.1,880.6 764.8,880.1 765.6,888.0 766.3,886.2 767.0,888.0 768.0,878.0 768.4,880.6 769.2,875.7 769.9,875.3 770.6,864.0 771.6,864.0 772.7,871.4 773.4,869.4 774.0,871.0 774.7,877.0 775.4,883.2 776.0,888.0 776.8,888.0 777.5,883.5 778.1,888.0 778.8,888.0 779.6,882.0 780.2,884.6 780.8,881.4 781.5,879.3 782.4,870.4 782.8,871.5 783.5,877.6 784.1,883.5 784.8,892.0 785.6,900.0 786.1,900.0 786.7,898.9 787.4,900.0 788.0,895.9 788.6,897.3 789.3,892.6 790.0,896.0 790.5,890.1 791.2,894.8 791.8,898.6 792.4,898.4 793.0,889.7 793.7,896.2 794.2,889.7 794.9,893.0 795.5,890.9 796.1,898.5 796.7,899.3 797.4,902.4 797.9,902.4 798.5,898.5 799.2,884.1 799.8,890.6 800.5,881.3 800.9,882.8 801.5,880.0 802.1,887.4 803.0,887.6 803.9,874.1 804.5,872.4 805.1,864.6 805.8,860.3 806.2,865.5 806.8,863.9 807.4,866.2 808.0,869.3 808.5,868.7 809.1,871.3 809.7,865.3 810.2,860.0 811.0,854.0 811.9,859.4 812.5,877.1 813.0,885.9 813.5,887.6 814.1,898.2 814.7,897.9 815.2,898.2 815.8,896.4 816.3,898.2 816.9,893.6 817.4,872.2 818.0,863.0 818.8,844.6 819.6,850.6 820.1,864.5 820.7,874.0 821.5,887.6 822.3,883.5 822.8,897.9 823.3,882.9 823.8,880.7 824.7,883.4 825.4,882.8 825.9,901.4 826.4,904.5 827.0,904.5 827.8,904.5 828.5,885.5 829.0,878.3 829.5,891.7 830.0,874.0 830.5,857.0 831.4,855.0 832.0,868.4 832.5,872.3 833.0,877.4 833.5,889.5 834.1,894.0 834.5,903.7 835.0,904.9 835.5,893.5 836.0,896.8 836.5,906.6 837.3,906.6 838.0,899.7 838.5,906.6 838.9,906.6 839.4,901.6 839.9,890.7 840.4,896.0 840.9,890.5 841.3,884.8 841.8,859.7 842.3,861.2 842.9,843.5 843.7,838.3 844.2,838.4 845.0,852.0 845.6,857.7 846.0,820.2 846.5,828.5 847.0,817.4 847.8,810.0 848.3,823.0 848.8,843.5 849.3,853.4 849.7,869.7 850.5,887.6 851.1,893.8 851.5,879.2 852.0,891.9 852.4,886.4 853.0,879.2 853.8,879.2 854.2,882.7 854.7,885.5 855.1,896.0 855.5,889.7 856.2,896.0 856.9,896.0 857.3,896.0 857.7,892.2 858.2,887.3 858.6,892.7 859.3,889.7 859.9,889.5 860.3,887.6 860.7,892.3 861.2,893.5 861.6,887.6 862.0,888.4 862.5,887.6 863.1,887.6 863.7,897.4 864.1,901.9 864.6,903.4 865.0,900.4 865.6,910.8 866.2,908.6 866.6,903.6 867.1,908.2 867.5,902.1 867.9,898.2 868.3,895.8 868.8,896.0 869.5,896.0 869.9,905.7 870.3,905.6 870.7,896.0 871.1,907.3 871.6,906.6 872.0,897.5 872.4,908.3 873.0,904.5 873.6,904.5 874.0,904.5 874.4,904.5 874.8,898.5 875.1,904.5 875.5,904.5 876.1,904.5 876.7,892.5 877.1,894.7 877.5,888.7 877.9,883.9 878.3,885.4 878.7,868.7 879.3,868.7 879.8,885.4 880.2,868.7 880.6,868.7 881.0,868.7 881.4,868.7 881.7,875.7 882.4,887.6 882.9,878.8 883.3,887.6 883.6,896.0 884.0,904.2 884.4,889.2 884.8,915.0 885.1,908.7 885.6,915.0 886.3,892.6 886.6,877.9 887.3,822.5 887.7,841.6 888.1,855.5 888.5,870.5 888.9,878.4 889.2,873.6 889.8,886.6 890.3,894.0 890.7,894.0 891.0,878.4 891.4,875.7 891.8,891.6 892.1,894.0 892.5,871.1 893.0,873.0 893.6,873.0 893.9,873.0 894.3,888.5 894.6,878.3 895.0,878.9 895.3,897.8 895.7,894.8 896.1,894.0 896.7,898.2 897.1,891.6 897.4,895.2 897.8,896.8 898.1,897.4 898.5,903.5 899.2,906.6 900.2,902.7 900.6,898.6 900.9,900.9 901.3,898.6 901.6,898.6 901.9,905.0 902.3,908.3 902.6,906.7 903.0,899.0 903.3,906.1 903.6,904.9 904.0,905.4 904.3,905.2 904.6,901.7 905.0,906.3 905.3,902.3 905.7,906.4 906.0,901.6 906.3,901.0 906.7,904.8 907.0,907.4 907.3,909.5 907.6,908.1 908.0,906.7 908.3,913.2 908.6,911.8 909.0,913.2 909.3,911.2 909.6,904.3 909.9,907.9 910.3,909.2 910.6,910.9 910.9,911.6 911.3,903.4 911.6,901.2 911.9,899.3 912.2,899.3 912.5,906.8 912.9,914.8 913.2,910.5 913.5,911.8 913.8,908.1 914.1,912.5 914.5,908.0 914.8,906.5 915.1,901.7 915.4,896.9 915.7,894.5 916.0,891.5 916.4,893.7 916.7,895.8 917.0,895.7 917.3,897.2 917.6,906.0 917.9,905.0 918.2,899.7 918.6,899.7 918.9,903.1 919.2,905.5 919.5,914.4 919.8,905.8 920.1,909.9 920.4,906.8 920.7,906.8 921.0,908.9 921.3,914.6 921.6,916.1 922.0,904.0 922.3,902.9 922.6,911.9 922.9,906.2 923.2,910.8 923.5,905.5 923.8,900.0 924.1,900.0 924.4,900.0 924.7,900.1 925.0,908.6 925.3,906.6 925.6,900.1 925.9,906.5 926.2,904.5 926.5,906.9 926.8,903.1 927.1,902.3 927.4,904.3 927.7,900.2 928.0,904.4 928.3,906.1 928.6,914.1 928.8,913.8 929.1,908.9 929.4,906.1 929.7,902.3 930.0,899.1 930.3,898.1 930.6,897.2 930.9,893.5 931.2,896.7 931.5,899.0 931.8,903.1 932.1,899.2 932.3,901.8 932.6,910.7 932.9,911.3 933.2,911.2 933.5,908.2 933.8,904.5 934.1,904.1 934.4,911.2 934.6,911.8 934.9,905.6 935.2,907.9 935.5,907.1 935.8,910.6 936.1,905.7 936.3,906.5 936.6,911.0 936.9,915.7 937.2,911.7 937.5,913.3 937.7,905.6 938.0,906.0 938.3,910.1 938.6,904.4 938.9,906.3 939.1,908.4 939.4,910.6 939.7,913.4 940.0,911.0 940.3,906.4 940.5,910.6 940.8,903.9 941.1,905.1 941.4,901.4 941.6,900.9 941.9,911.8 942.2,917.8 942.4,910.2 942.7,911.2 943.0,911.1 943.3,906.4 943.5,908.9 943.8,905.3 944.1,900.1 944.3,899.5 944.6,898.5 944.9,897.8 945.2,899.6 945.4,903.8 945.7,903.4 946.0,909.8 946.2,907.9 946.5,915.5 946.8,917.6 947.0,910.7 947.3,915.9 947.6,915.7 947.8,907.2 948.1,910.4 948.4,906.4 948.6,904.3 948.9,905.6 949.1,912.3 949.4,909.3 949.7,913.6 949.9,901.3 950.2,907.6 950.5,899.8 950.7,900.9 951.0,905.5 951.2,902.3 951.5,899.0 951.8,895.8 952.0,899.0 952.3,900.2 952.5,899.5 952.8,901.5 953.1,902.8 953.3,904.8 953.6,910.6 953.8,908.3 954.1,901.5 954.3,902.3 954.6,901.5 954.8,908.9 955.1,907.5 955.4,914.8 955.6,910.0 955.9,918.5 956.1,901.6 956.4,914.7 956.6,910.3 956.9,918.6 957.1,918.6 957.4,907.1 957.6,905.3 957.9,908.1 958.1,915.8 958.4,911.8 958.6,904.7 958.9,903.0 959.1,903.3 959.4,907.0 959.6,904.2 959.9,901.1 960.1,898.8 960.4,900.0 960.6,904.2 960.9,904.8 961.1,904.4 961.4,911.6 961.6,913.3 961.8,905.4 962.1,907.7 962.3,908.7 962.6,907.8 962.8,910.8 963.1,913.3 963.3,911.8 963.6,915.7 963.8,915.4 964.0,916.6 964.3,910.7 964.5,915.0 964.8,910.4 965.0,913.6 965.2,913.7 965.5,905.6 965.7,909.6 966.0,902.1 966.2,904.6 966.4,911.8 966.7,906.6 966.9,915.2 967.2,905.3 967.4,908.6 967.6,911.5 967.9,915.4 968.1,912.4 968.4,909.7 968.6,904.1 968.8,913.1 969.1,913.4 969.3,907.6 969.5,909.3 969.8,903.9 970.0,901.6 970.2,900.9 970.5,898.6 970.7,897.8 970.9,899.3 971.2,901.5 971.4,902.9 971.6,906.0 971.9,911.7 972.1,906.6 972.3,908.3 972.6,915.6 972.8,910.2 973.0,913.7 973.3,902.8 973.5,910.5 973.7,905.6 973.9,906.6 974.2,904.0 974.4,902.5 974.6,908.3 974.9,907.5 976.3,891.8" fill="none" stroke="#808080" stroke-width="3.5" stroke-linejoin="round" stroke-linecap="round"/>
<polyline points="140.5,830.5 161.2,853.8 181.2,861.2 197.5,876.2 214.5,882.0 228.0,868.0 242.0,866.2 254.5,880.5 265.5,880.0 277.0,895.5 287.0,899.5 297.5,891.2 306.2,897.5 314.5,870.0 324.5,880.0 331.2,870.5 339.5,847.5 347.0,857.0 355.0,862.0 361.2,863.0 367.5,873.0 373.8,878.8 375.0,879.5 380.5,862.0 386.2,853.8 392.0,855.5 398.0,848.8 403.0,825.0 408.0,825.5 413.0,855.0 418.0,872.5 423.0,869.5 428.0,855.5 433.0,855.5 437.0,858.8 441.2,849.5 446.2,843.0 453.8,862.0 458.0,845.0 462.0,857.5 465.5,872.0 468.8,856.2 473.0,859.5 476.2,875.0 479.5,866.2 483.0,878.8 486.2,876.2 490.0,888.0 493.8,870.5 497.0,870.0 498.8,847.5 502.0,853.8 505.5,839.5 508.8,860.0 512.0,878.0 515.0,862.5 518.0,868.8 521.2,885.5 524.5,881.2 526.2,868.8 529.5,866.2 533.0,843.8 536.2,825.5 539.5,842.5 542.0,863.8 546.2,867.0 552.5,858.8 556.2,858.0 559.5,860.0 563.0,840.0 566.2,837.0 568.0,843.8 569.5,831.2 572.0,843.8 575.0,856.2 577.0,828.8 579.5,849.5 581.2,871.2 583.8,844.5 586.2,831.2 588.8,865.0 592.0,865.0 595.0,882.0 597.0,916.2 600.0,927.0 602.5,902.5 603.9,880.9 604.5,874.5 605.6,875.3 607.0,887.5 608.8,897.0 610.0,896.0 610.8,885.4 612.5,875.8 613.0,867.6 614.2,874.2 615.6,893.6 617.5,903.3 619.0,912.0 620.7,904.7 621.6,893.6 622.3,896.2 623.9,903.1 625.0,899.6 625.5,897.1 627.0,897.6 628.0,890.0 628.6,895.8 630.4,900.0 631.6,894.6 633.1,883.0 633.6,869.0 634.6,888.2 636.1,897.2 637.6,912.0 639.0,899.8 640.4,888.0 641.9,866.3 642.4,855.6 643.3,875.2 645.0,897.0 646.1,889.1 647.5,891.3 649.0,898.0 650.3,903.0 651.6,903.0 653.0,903.0 654.3,896.5 655.0,890.0 655.7,883.6 657.0,859.0 658.3,863.4 659.6,864.3 661.0,863.6 662.2,866.7 663.4,873.4 664.4,868.0 666.0,871.9 667.0,890.0 668.4,863.5 669.0,863.0 669.7,870.2 670.9,884.6 672.1,904.8 673.6,927.0 674.5,914.2 676.0,902.0 676.9,890.4 678.1,916.5 679.0,925.0 680.4,913.6 681.6,877.0 682.7,906.4 683.8,910.0 684.4,924.0 685.0,923.9 686.1,891.8 687.6,898.0 688.3,905.5 689.4,924.5 690.4,930.0 691.6,890.3 692.4,873.6 693.8,886.2 694.8,902.6 695.6,925.0 697.0,925.0 698.0,911.9 699.1,923.1 699.6,920.0 700.1,914.0 701.1,927.8 702.4,914.0 703.2,932.8 704.4,940.0 705.2,927.1 706.2,879.0 707.0,869.0 708.2,890.9 709.6,941.0 710.2,944.0 711.2,937.7 712.4,944.0 713.1,928.4 714.1,918.3 715.0,918.7 715.6,915.0 716.9,913.7 717.9,899.7 719.0,902.0 719.7,887.5 720.7,890.8 721.6,892.4 722.4,885.0 723.4,895.1 724.3,901.3 725.0,912.0 726.1,928.1 727.0,952.0 728.0,952.0 728.8,924.5 730.0,904.0 730.6,904.0 731.5,918.7 732.3,950.6 733.0,947.0 734.1,940.1 734.9,912.7 735.6,904.0 736.6,902.9 737.5,951.6 738.3,925.7 739.0,952.0 740.0,931.1 740.8,922.3 741.6,906.4 742.4,893.6 743.3,912.7 744.1,930.2 744.9,937.4 746.0,940.0 746.5,945.9 747.3,942.4 748.1,944.5 748.9,952.0 750.0,952.0 750.5,942.8 751.3,936.0 752.4,934.0 752.8,924.2 753.6,928.3 754.4,921.8 755.2,909.9 756.0,908.0 756.7,914.7 757.4,928.7 758.2,933.1 758.9,933.2 759.6,952.0 760.4,939.6 761.2,916.8 761.9,928.5 762.7,925.5 763.4,919.0 764.1,959.9 764.8,942.3 765.6,928.6 766.3,943.9 767.0,926.5 767.7,943.1 768.4,945.8 769.2,942.3 769.9,924.8 770.6,930.0 771.3,942.8 772.0,927.4 772.7,924.8 773.4,951.9 774.0,949.5 774.7,971.2 775.4,943.9 776.1,937.9 776.8,938.0 777.5,903.0 778.1,878.8 778.8,841.8 779.5,887.1 780.2,934.5 780.8,950.4 781.5,979.9 782.1,974.7 782.8,981.5 783.5,962.1 784.1,982.9 784.8,983.6 785.4,965.9 786.1,961.6 786.7,985.6 787.4,985.0 788.0,986.1 788.6,973.4 789.3,951.2 789.9,927.5 790.5,958.7 791.2,971.4 791.8,945.2 792.4,925.6 793.0,934.8 793.7,937.2 794.3,939.8 794.9,927.3 795.5,927.7 796.1,947.9 796.7,954.1 797.3,926.8 797.9,947.8 798.5,956.9 799.2,954.3 799.8,930.7 800.3,926.4 800.9,945.0 801.5,927.5 802.1,901.0 802.7,899.8 803.3,905.0 803.9,940.6 804.5,912.5 805.1,941.2 805.6,893.6 806.2,891.7 806.8,897.8 807.4,882.8 808.0,910.4 808.5,901.3 809.1,914.4 809.7,951.6 810.2,942.7 810.8,930.3 811.4,933.6 811.9,944.4 812.5,925.8 813.0,965.3 813.6,951.8 814.1,940.1 814.7,946.4 815.2,943.5 815.8,905.8 816.3,898.1 816.9,931.2 817.4,947.4 818.0,914.0 818.5,905.4 819.1,908.8 819.6,924.9 820.1,902.9 820.7,944.0 821.2,943.3 821.7,943.4 822.3,939.3 822.8,912.5 823.3,994.8 823.8,982.9 824.4,931.0 824.9,983.4 825.4,952.2 825.9,951.2 826.4,963.3 827.0,959.2 827.5,977.8 828.0,965.2 828.5,977.1 829.0,994.0 829.5,1006.5 830.0,949.9 830.5,922.4 831.0,970.3 831.5,985.0 832.0,1008.9 832.5,960.5 833.0,1004.8 833.5,952.3 834.0,939.3 834.5,992.2 835.0,1003.1 835.5,986.8 836.0,927.9 836.5,932.9 837.0,995.5 837.5,954.1 838.0,991.1 838.5,990.6 838.9,958.3 839.4,968.6 839.9,941.1 840.4,984.7 840.9,957.0 841.3,947.3 841.8,917.0 842.3,890.2 842.8,908.1 843.2,922.4 843.7,895.2 844.2,970.7 844.6,954.9 845.1,929.4 845.6,928.3 846.0,942.4 846.5,946.6 847.0,955.4 847.4,979.2 847.9,975.4 848.3,960.5 848.8,954.7 849.3,988.1 849.7,995.4 850.2,981.0 850.6,1003.6 851.1,1027.8 851.5,1027.7 852.0,1023.1 852.4,1022.1 852.9,1014.1 853.3,1015.7 853.8,1027.7 854.2,1006.9 854.7,1009.0 855.1,1019.3 855.5,997.9 856.0,1008.2 856.4,1037.5 856.9,1028.7 857.3,1023.3 857.7,1037.5 858.2,1033.5 858.6,1019.3 859.0,1036.5 859.5,1032.5 859.9,1033.4 860.3,1041.7 860.7,1024.2 861.2,1045.0 861.6,1046.9 862.0,1034.6 862.5,1045.1 862.9,1027.1 863.3,1043.7 863.7,1044.2 864.1,1039.8 864.6,1034.9 865.0,1017.5 865.4,1043.7 865.8,1036.8 866.2,1032.1 866.6,1028.1 867.1,1030.0 867.5,1046.6 867.9,1044.4 868.3,1036.0 868.7,1028.2 869.1,1035.5 869.5,1054.0 869.9,1059.1 870.3,1051.6 870.7,1043.4 871.1,1053.5 871.6,1036.4 872.0,1042.3 872.4,1028.6 872.8,1029.2 873.2,1054.4 873.6,1042.6 874.0,1028.8 874.4,1030.4 874.8,1015.7 875.1,1037.3 875.5,1030.8 875.9,1021.0 876.3,1015.1 876.7,1015.0 877.1,1032.6 877.5,1035.9 877.9,1033.0 878.3,1044.4 878.7,1026.4 879.1,1057.0 879.4,1063.1 879.8,1028.4 880.2,1047.3 880.6,1013.8 881.0,1026.2 881.4,1047.2 881.7,1048.2 882.1,1059.6 882.5,1025.6 882.9,1007.3 883.3,1003.4 883.6,996.8 884.0,1010.1 884.4,1023.8 884.8,1038.7 885.1,1018.2 885.5,1023.0 885.9,1057.8 886.3,1038.6 886.6,1071.4 887.0,1037.5 887.4,1061.4 887.7,1044.2 888.1,1035.7 888.5,1056.0 888.9,1061.1 889.2,1042.1 889.6,1044.6 890.0,1054.2 890.3,1075.4 890.7,1055.8 891.0,1057.0 891.4,1075.4 891.8,1063.8 892.1,1065.7 892.5,1044.5 892.8,1072.8 893.2,1054.1 893.6,1075.0 893.9,1082.8 894.3,1091.0 894.6,1075.9 895.0,1076.2 895.3,1077.8 895.7,1088.0 896.0,1096.9 896.4,1097.1 896.7,1097.9 897.1,1098.4 897.4,1078.1 897.8,1095.0 898.1,1057.0 898.5,1077.3 898.8,1064.5 899.2,1101.5 899.5,1089.0 899.9,1096.2 900.2,1073.7 900.6,1070.3 900.9,1087.1 901.3,1093.3 901.6,1094.5 901.9,1097.1 902.3,1075.1 902.6,1090.6 903.0,1096.6 903.3,1062.8 903.6,1072.7 904.0,1092.2 904.3,1098.3 904.6,1108.9 905.0,1102.3 905.3,1100.5 905.7,1106.3 906.0,1080.5 906.3,1069.0 906.7,1096.8 907.0,1066.5 907.3,1057.6 907.6,1074.3 908.0,1079.8 908.3,1082.9 908.6,1068.2 909.0,1082.7 909.3,1060.7 909.6,1060.7 909.9,1101.7 910.3,1082.7 910.6,1106.1 910.9,1081.4 911.3,1098.7 911.6,1081.6 911.9,1113.1 912.2,1099.1 912.5,1086.7 912.9,1066.6 913.2,1071.7 913.5,1057.6 913.8,1050.7 914.1,1041.8 914.5,1048.5 914.8,1051.3 915.1,1069.1 915.4,1080.2 915.7,1071.1 916.0,1105.1 916.4,1108.2 916.7,1091.4 917.0,1085.9 917.3,1112.7 917.6,1101.4 917.9,1099.5 918.2,1101.9 918.6,1076.7 918.9,1087.0 919.2,1110.3 919.5,1103.1 919.8,1115.2 920.1,1090.7 920.4,1094.8 920.7,1107.7 921.0,1090.9 921.3,1101.1 921.6,1118.7 922.0,1091.7 922.3,1076.9 922.6,1100.8 922.9,1075.8 923.2,1096.7 923.5,1092.9 923.8,1073.3 924.1,1074.4 924.4,1082.4 924.7,1080.5 925.0,1049.2 925.3,1048.2 925.6,1063.8 925.9,1085.5 926.2,1116.1 926.5,1095.3 926.8,1118.2 927.1,1106.6 927.4,1063.6 927.7,1052.2 928.0,1067.5 928.3,1070.2 928.6,1075.5 928.8,1060.3 929.1,1041.8 929.4,1035.8 929.7,1035.6 930.0,1047.4 930.3,1048.5 930.6,1072.8 930.9,1066.1 931.2,1101.9 931.5,1082.6 931.8,1043.2 932.1,1076.6 932.3,1093.5 932.6,1054.6 932.9,1091.9 933.2,1111.1 933.5,1120.4 933.8,1098.5 934.1,1070.9 934.4,1074.7 934.6,1045.2 934.9,1120.4 935.2,1103.2 935.5,1056.2 935.8,1085.2 936.1,1059.0 936.3,1105.4 936.6,1112.4 936.9,1120.1 937.2,1072.8 937.5,1062.0 937.7,1106.6 938.0,1073.7 938.3,1080.4 938.6,1062.5 938.9,1051.5 939.1,1090.6 939.4,1091.9 939.7,1117.8 940.0,1082.0 940.3,1098.8 940.5,1075.1 940.8,1102.9 941.1,1076.7 941.4,1055.3 941.6,1056.2 941.9,1085.0 942.2,1087.7 942.4,1100.4 942.7,1069.7 943.0,1098.8 943.3,1090.9 943.5,1080.4 943.8,1067.0 944.1,1069.5 944.3,1073.6 944.6,1089.5 944.9,1112.6 945.2,1119.1 945.4,1099.7 945.7,1101.0 946.0,1117.8 946.2,1081.2 946.5,1081.6 946.8,1076.3 947.0,1079.9 947.3,1081.7 947.6,1070.9 947.8,1062.3 948.1,1077.5 948.4,1084.1 948.6,1075.5 948.9,1098.9 949.1,1100.4 949.4,1074.7 949.7,1084.8 949.9,1059.5 950.2,1059.7 950.5,1080.2 950.7,1072.6 951.0,1099.6 951.2,1066.1 951.5,1072.7 951.8,1065.9 952.0,1078.3 952.3,1058.5 952.5,1079.6 952.8,1094.6 953.1,1090.4 953.3,1084.6 953.6,1067.1 953.8,1070.6 954.1,1089.8 954.3,1084.4 954.6,1089.5 954.8,1072.1 955.1,1061.5 955.4,1065.3 955.6,1089.3 955.9,1077.6 956.1,1064.8 956.4,1059.1 956.6,1054.9 956.9,1060.6 957.1,1061.3 957.4,1085.7 957.6,1085.2 957.9,1084.7 958.1,1078.3 958.4,1068.5 958.6,1066.0 958.9,1061.9 959.1,1067.3 959.4,1068.1 959.6,1068.3 959.9,1065.1 960.1,1073.7 960.4,1072.2 960.6,1054.0 960.9,1058.9 961.1,1052.4 961.4,1069.8 961.6,1074.2 961.8,1061.0 962.1,1050.6 962.3,1047.3 962.6,1058.8 962.8,1049.0 963.1,1049.2 963.3,1040.6 963.6,1062.6 963.8,1066.0 964.0,1056.8 964.3,1062.8 964.5,1059.6 964.8,1058.4 965.0,1029.1 965.2,1068.3 965.5,1047.0 965.7,1064.1 966.0,1042.2 966.2,1040.5 966.4,1042.4 966.7,1035.0 966.9,1018.7 967.2,1044.2 967.4,1038.1 967.6,1030.3 967.9,1059.3 968.1,1025.9 968.4,1024.9 968.6,1048.2 968.8,1028.3 969.1,1045.5 969.3,1024.7 969.5,1034.1 969.8,1062.5 970.0,1013.5 970.2,1031.0 970.5,998.2 970.7,1028.8 970.9,1009.2 971.2,1015.1 971.4,1024.8 971.6,991.4 971.9,1009.3 972.1,1021.0 972.3,1066.0 972.6,1060.8 972.8,1065.6 973.0,1023.8 973.3,1021.5 973.5,1058.0 973.7,1016.8 973.9,1028.2 974.2,986.7 974.4,998.8 974.6,1063.1 974.9,1061.2 975.1,1025.0 975.3,1063.6 976.0,902.0 976.5,1000.0" fill="none" stroke="#404040" stroke-width="3.5" stroke-linejoin="round" stroke-linecap="round"/>
<polyline points="140.5,741.2 161.2,777.5 181.2,793.0 197.5,787.0 214.5,795.0 228.0,787.5 242.0,798.8 254.5,818.8 265.5,797.0 277.5,808.8 287.0,830.0 297.5,830.5 306.2,854.5 315.0,864.5 324.5,854.5 332.0,889.5 339.5,877.5 347.0,899.5 355.0,900.0 361.2,898.0 368.0,916.2 373.8,912.5 375.0,912.5 380.5,925.0 386.2,941.2 392.0,937.5 398.0,941.2 403.0,943.8 408.0,949.5 413.0,946.2 418.0,953.8 423.0,965.5 428.0,941.2 433.0,949.5 437.0,967.5 441.2,975.0 446.2,963.8 452.0,964.5 457.5,962.5 462.0,972.0 465.5,1000.5 469.5,1003.8 473.8,986.2 480.0,978.8 487.0,1010.5 493.0,978.8 497.0,988.0 500.0,992.5 502.5,1031.2 506.2,1016.2 511.2,988.8 515.0,965.5 518.8,995.0 520.5,1006.2 524.5,993.0 528.8,997.0 531.2,1014.5 536.2,1015.0 538.8,1005.5 543.0,1015.5 549.5,1025.0 555.0,1011.2 558.0,1035.0 560.0,1021.2 563.0,1022.0 567.0,1038.8 569.5,1040.0 573.0,1051.2 575.0,1043.0 577.5,1038.8 580.5,1018.8 583.8,1011.2 586.2,1031.2 588.0,1026.2 591.2,992.5 593.8,1017.5 597.0,1025.5 598.8,1012.5 600.3,1020.0 601.2,1016.2 602.1,1009.2 603.8,1000.0 605.6,983.7 607.5,968.8 609.1,986.7 610.8,985.0 611.2,997.0 612.5,1006.4 614.2,1003.5 615.0,996.2 615.8,1013.2 617.5,1028.7 618.0,1037.5 619.1,1037.0 620.7,1048.5 621.2,1052.5 622.3,1047.2 623.2,1046.0 623.9,1046.0 625.0,1048.9 625.5,1054.3 627.2,1067.6 628.6,1063.3 630.2,1048.9 631.6,1053.4 633.1,1048.9 634.6,1049.6 636.0,1034.2 637.6,1056.9 638.2,1067.6 639.0,1055.0 640.8,1035.7 641.9,1002.8 642.6,995.0 643.3,995.0 644.1,1003.8 644.7,1023.1 646.3,1064.3 647.5,1063.6 648.9,1064.3 649.6,1059.9 650.3,1051.1 651.6,1044.6 652.9,1036.8 654.3,1036.8 655.7,1039.0 656.2,1042.3 657.0,1044.1 658.3,1059.1 658.8,1059.9 659.6,1059.5 660.9,1056.1 662.4,1058.8 663.4,1061.1 663.9,1068.7 664.7,1072.8 666.0,1073.5 667.2,1075.3 668.4,1088.6 669.7,1094.7 671.2,1097.3 672.1,1097.3 673.3,1083.5 674.2,1083.0 675.7,1071.4 677.1,1064.3 678.1,1066.2 679.2,1066.1 680.4,1063.2 681.5,1048.7 682.7,1045.2 683.8,1043.7 684.8,1034.6 686.1,1024.8 686.6,1025.8 687.2,994.5 688.1,973.0 689.4,990.5 690.3,1014.8 691.6,1000.3 692.7,990.5 693.2,980.7 693.8,1005.8 694.8,1016.3 695.8,1045.6 697.0,1067.3 698.0,1094.0 699.1,1091.0 699.8,1067.6 701.3,1094.0 702.2,1069.3 703.5,1054.4 704.2,1054.8 705.2,1046.9 705.7,1050.0 706.2,1051.6 707.2,1004.6 707.9,991.0 709.2,1027.1 710.1,1045.6 711.2,1066.5 712.1,1079.7 713.0,1105.0 714.1,1089.9 715.0,1068.1 715.6,1076.4 716.9,1099.9 717.8,1102.8 718.8,1076.0 720.0,1067.6 720.7,1062.1 721.8,1062.1 722.5,1072.8 723.4,1099.1 724.4,1102.8 725.2,1107.2 726.1,1090.1 727.0,1107.2 727.7,1107.2 728.8,1067.3 729.9,1036.8 730.6,1052.8 731.5,1089.9 732.3,1084.2 732.8,1108.3 734.1,1108.3 734.9,1108.3 735.8,1095.1 736.6,1090.2 737.5,1044.0 738.0,1036.8 739.1,1040.3 739.8,1055.5 740.8,1058.5 741.6,1040.0 742.7,1026.9 743.3,1027.5 744.1,1064.1 744.7,1061.0 745.7,1085.7 746.4,1109.4 748.1,1120.6 748.9,1118.3 749.7,1117.4 750.5,1122.3 751.3,1117.8 752.1,1121.8 752.8,1134.8 753.6,1134.0 754.4,1125.2 755.2,1129.2 755.9,1129.1 756.7,1130.6 757.4,1118.1 758.2,1122.3 758.9,1129.8 759.7,1124.0 760.4,1123.5 761.2,1120.2 761.9,1112.4 762.7,1102.5 763.4,1110.1 764.1,1113.7 764.8,1116.2 765.6,1126.3 766.3,1129.8 767.0,1120.1 767.7,1125.1 768.4,1134.1 769.2,1119.0 769.9,1131.9 770.6,1124.6 771.3,1130.4 772.0,1128.4 772.7,1124.1 773.4,1120.2 774.0,1136.6 774.7,1135.0 775.4,1127.5 776.1,1131.6 776.8,1132.5 777.5,1126.6 778.1,1144.1 778.8,1144.9 779.5,1143.2 780.2,1132.2 780.8,1147.7 781.5,1154.2 782.1,1141.9 782.8,1129.2 783.5,1148.6 784.1,1138.1 784.8,1147.1 785.4,1146.4 786.1,1136.7 786.7,1149.7 787.4,1147.6 788.0,1157.7 788.6,1151.5 789.3,1162.4 789.9,1139.7 790.5,1146.2 791.2,1137.0 791.8,1138.3 792.4,1140.0 793.0,1145.2 793.7,1148.0 794.3,1159.7 794.9,1155.9 795.5,1156.9 796.1,1142.8 796.7,1153.4 797.3,1151.6 797.9,1141.4 798.5,1139.7 799.2,1131.4 799.8,1128.9 800.3,1144.9 800.9,1146.0 801.5,1169.2 802.1,1151.0 802.7,1137.5 803.3,1138.5 803.9,1148.4 804.5,1153.9 805.1,1128.9 805.6,1128.9 806.2,1145.9 806.8,1146.7 807.4,1147.6 808.0,1142.9 808.5,1133.1 809.1,1155.2 809.7,1148.9 810.2,1136.7 810.8,1151.2 811.4,1154.3 811.9,1140.0 812.5,1140.2 813.0,1152.0 813.6,1160.2 814.1,1168.1 814.7,1153.1 815.2,1156.3 815.8,1151.8 816.3,1159.9 816.9,1164.8 817.4,1165.4 818.0,1144.3 818.5,1152.5 819.1,1154.9 819.6,1165.8 820.1,1162.3 820.7,1144.9 821.2,1144.7 821.7,1151.0 822.3,1166.6 822.8,1167.5 823.3,1167.9 823.8,1158.2 824.4,1154.0 824.9,1155.5 825.4,1155.1 825.9,1152.1 826.4,1142.5 827.0,1144.8 827.5,1143.8 828.0,1142.2 828.5,1152.4 829.0,1161.3 829.5,1157.0 830.0,1142.7 830.5,1149.0 831.0,1153.3 831.5,1169.1 832.0,1166.6 832.5,1170.9 833.0,1168.1 833.5,1182.9 834.0,1173.4 834.5,1170.7 835.0,1170.0 835.5,1166.0 836.0,1154.8 836.5,1172.6 837.0,1162.6 837.5,1175.9 838.0,1185.1 838.5,1196.5 838.9,1200.0 839.4,1198.7 839.9,1178.0 840.4,1167.2 840.9,1166.3 841.3,1149.5 841.8,1153.0 842.3,1141.6 842.8,1122.0 843.2,1136.2 843.7,1148.6 844.2,1159.2 844.6,1159.1 845.1,1167.0 845.6,1176.0 846.0,1172.1 846.5,1183.0 847.0,1194.5 847.4,1194.3 847.9,1189.8 848.3,1182.6 848.8,1170.9 849.3,1161.8 849.7,1165.2 850.2,1173.9 850.6,1168.8 851.1,1180.8 851.5,1181.0 852.0,1161.4 852.4,1174.7 852.9,1163.1 853.3,1181.3 853.8,1165.9 854.2,1180.0 854.7,1192.8 855.1,1184.6 855.5,1174.8 856.0,1178.5 856.4,1188.0 856.9,1186.0 857.3,1180.5 857.7,1184.4 858.2,1171.5 858.6,1169.7 859.0,1170.7 859.5,1177.1 859.9,1162.6 860.3,1178.0 860.7,1183.4 861.2,1168.9 861.6,1157.7 862.0,1158.2 862.5,1157.8 862.9,1158.6 863.3,1159.3 863.7,1173.2 864.1,1170.7 864.6,1161.5 865.0,1181.9 865.4,1167.6 865.8,1166.1 866.2,1178.0 866.6,1179.1 867.1,1185.6 867.5,1183.5 867.9,1189.5 868.3,1183.4 868.7,1170.5 869.1,1193.0 869.5,1176.4 869.9,1180.4 870.3,1180.0 870.7,1175.0 871.1,1176.7 871.6,1173.0 872.0,1177.5 872.4,1177.2 872.8,1178.6 873.2,1168.5 873.6,1180.3 874.0,1173.1 874.4,1171.5 874.8,1184.0 875.1,1186.8 875.5,1180.4 875.9,1183.5 876.3,1177.7 876.7,1177.5 877.1,1193.4 877.5,1187.9 877.9,1178.7 878.3,1172.6 878.7,1176.5 879.1,1196.5 879.4,1197.0 879.8,1181.3 880.2,1190.2 880.6,1172.8 881.0,1173.5 881.4,1163.4 881.7,1170.0 882.1,1164.9 882.5,1157.2 882.9,1148.0 883.3,1154.5 883.6,1155.1 884.0,1171.7 884.4,1163.4 884.8,1187.2 885.1,1192.0 885.5,1197.9 885.9,1169.4 886.3,1196.3 886.6,1186.2 887.0,1187.4 887.4,1199.4 887.7,1189.0 888.1,1174.4 888.5,1199.5 888.9,1164.3 889.2,1164.2 889.6,1203.6 890.0,1176.2 890.3,1189.2 890.7,1189.1 891.0,1178.3 891.4,1191.9 891.8,1200.9 892.1,1184.0 892.5,1181.9 892.8,1163.9 893.2,1183.0 893.6,1189.2 893.9,1176.4 894.3,1182.3 894.6,1179.5 895.0,1182.1 895.3,1187.8 895.7,1198.9 896.0,1186.1 896.4,1183.9 896.7,1172.0 897.1,1164.0 897.4,1182.5 897.8,1170.4 898.1,1182.9 898.5,1187.1 898.8,1181.7 899.2,1173.0 899.5,1176.8 899.9,1198.1 900.2,1179.2 900.6,1163.3 900.9,1168.7 901.3,1165.5 901.6,1196.8 901.9,1185.3 902.3,1180.4 902.6,1179.8 903.0,1182.3 903.3,1174.3 903.6,1169.2 904.0,1167.7 904.3,1174.6 904.6,1169.8 905.0,1170.6 905.3,1191.7 905.7,1173.4 906.0,1163.5 906.3,1159.1 906.7,1176.0 907.0,1186.6 907.3,1176.5 907.6,1170.3 908.0,1179.8 908.3,1178.2 908.6,1180.2 909.0,1188.7 909.3,1172.8 909.6,1187.1 909.9,1191.2 910.3,1182.0 910.6,1174.0 910.9,1172.6 911.3,1167.6 911.6,1161.4 911.9,1161.5 912.2,1190.6 912.5,1185.4 912.9,1170.5 913.2,1167.5 913.5,1173.1 913.8,1185.5 914.1,1190.9 914.5,1191.6 914.8,1190.5 915.1,1167.1 915.4,1188.0 915.7,1193.1 916.0,1199.7 916.4,1178.5 916.7,1185.4 917.0,1172.6 917.3,1196.5 917.6,1176.7 917.9,1183.6 918.2,1165.0 918.6,1201.0 918.9,1195.8 919.2,1191.0 919.5,1193.8 919.8,1188.5 920.1,1184.9 920.4,1186.9 920.7,1191.0 921.0,1199.2 921.3,1187.8 921.6,1189.3 922.0,1196.3 922.3,1194.6 922.6,1192.4 922.9,1169.0 923.2,1176.9 923.5,1186.6 923.8,1189.4 924.1,1202.9 924.4,1190.8 924.7,1205.2 925.0,1209.9 925.3,1210.2 925.6,1203.7 925.9,1193.8 926.2,1187.9 926.5,1199.7 926.8,1176.8 927.1,1193.3 927.4,1206.4 927.7,1187.5 928.0,1204.7 928.3,1213.1 928.6,1205.3 928.8,1195.9 929.1,1188.7 929.4,1197.6 929.7,1170.0 930.0,1185.3 930.3,1201.4 930.6,1198.9 930.9,1182.5 931.2,1191.5 931.5,1188.3 931.8,1191.2 932.1,1195.3 932.3,1181.8 932.6,1189.0 932.9,1188.0 933.2,1195.3 933.5,1211.4 933.8,1218.4 934.1,1199.4 934.4,1219.2 934.6,1213.3 934.9,1197.4 935.2,1214.1 935.5,1213.8 935.8,1208.2 936.1,1191.6 936.3,1195.7 936.6,1200.1 936.9,1205.1 937.2,1183.0 937.5,1191.9 937.7,1162.5 938.0,1167.7 938.3,1177.8 938.6,1200.6 938.9,1216.5 939.1,1211.0 939.4,1180.7 939.7,1222.5 940.0,1206.1 940.3,1184.2 940.5,1219.6 940.8,1209.1 941.1,1182.0 941.4,1160.9 941.6,1174.2 941.9,1209.6 942.2,1220.0 942.4,1178.9 942.7,1163.7 943.0,1196.9 943.3,1182.3 943.5,1205.9 943.8,1212.3 944.1,1191.0 944.3,1184.1 944.6,1200.5 944.9,1200.2 945.2,1183.0 945.4,1204.9 945.7,1210.2 946.0,1197.0 946.2,1199.0 946.5,1189.6 946.8,1187.5 947.0,1185.0 947.3,1173.1 947.6,1191.7 947.8,1200.3 948.1,1188.9 948.4,1172.0 948.6,1164.9 948.9,1158.6 949.1,1150.1 949.4,1137.7 949.7,1145.6 949.9,1161.3 950.2,1167.2 950.5,1165.6 950.7,1171.2 951.0,1177.3 951.2,1181.2 951.5,1192.0 951.8,1194.2 952.0,1201.9 952.3,1218.1 952.5,1198.6 952.8,1199.1 953.1,1216.6 953.3,1212.1 953.6,1212.3 953.8,1220.1 954.1,1215.2 954.3,1212.4 954.6,1215.5 954.8,1203.4 955.1,1201.8 955.4,1201.1 955.6,1196.4 955.9,1190.5 956.1,1190.3 956.4,1204.0 956.6,1203.7 956.9,1203.8 957.1,1202.8 957.4,1203.0 957.6,1197.6 957.9,1191.5 958.1,1202.9 958.4,1204.8 958.6,1188.5 958.9,1213.5 959.1,1206.2 959.4,1204.7 959.6,1212.1 959.9,1223.7 960.1,1223.7 960.4,1192.0 960.6,1202.2 960.9,1189.5 961.1,1199.5 961.4,1215.4 961.6,1191.9 961.8,1196.5 962.1,1196.7 962.3,1207.4 962.6,1190.6 962.8,1186.0 963.1,1201.5 963.3,1213.7 963.6,1190.2 963.8,1204.6 964.0,1205.2 964.3,1211.3 964.5,1217.4 964.8,1214.5 965.0,1201.7 965.2,1208.8 965.5,1220.2 965.7,1202.2 966.0,1203.3 966.2,1189.2 966.4,1198.5 966.7,1210.1 966.9,1219.0 967.2,1216.8 967.4,1200.7 967.6,1199.4 967.9,1206.5 968.1,1217.6 968.4,1197.3 968.6,1215.6 968.8,1206.0 969.1,1189.8 969.3,1209.6 969.5,1216.7 969.8,1193.1 970.0,1203.0 970.2,1191.9 970.5,1189.8 970.7,1191.1 970.9,1211.2 971.2,1209.4 971.4,1199.6 971.6,1197.2 971.9,1202.5 972.1,1208.5 972.3,1210.7 972.6,1203.1 972.8,1202.1 973.0,1198.1 973.3,1202.3 973.5,1197.8 973.7,1204.0 973.9,1202.1 974.2,1210.7 974.4,1205.9 974.6,1203.0 974.9,1203.4 975.1,1204.2 975.3,1206.8 976.6,1129.4" fill="none" stroke="#00A0FF" stroke-width="3.5" stroke-linejoin="round" stroke-linecap="round"/>
</g>
<rect x="140.00" y="686.60" width="852.00" height="611.40" fill="none" stroke="#000" stroke-width="1.8"/>
<path d="M140.00 1294.99h6.0 M140.00 1282.08h6.0 M140.00 1271.54h6.0 M140.00 1262.63h6.0 M140.00 1254.90h6.0 M140.00 1248.09h6.0 M140.00 1242.00h12.3 M140.00 1201.92h6.0 M140.00 1178.47h6.0 M140.00 1161.84h6.0 M140.00 1148.93h6.0 M140.00 1138.39h6.0 M140.00 1129.48h6.0 M140.00 1121.75h6.0 M140.00 1114.94h6.0 M140.00 1108.85h12.3 M140.00 1068.77h6.0 M140.00 1045.32h6.0 M140.00 1028.69h6.0 M140.00 1015.78h6.0 M140.00 1005.24h6.0 M140.00 996.33h6.0 M140.00 988.60h6.0 M140.00 981.79h6.0 M140.00 975.70h12.3 M140.00 935.62h6.0 M140.00 912.17h6.0 M140.00 895.54h6.0 M140.00 882.63h6.0 M140.00 872.09h6.0 M140.00 863.18h6.0 M140.00 855.45h6.0 M140.00 848.64h6.0 M140.00 842.55h12.3 M140.00 802.47h6.0 M140.00 779.02h6.0 M140.00 762.39h6.0 M140.00 749.48h6.0 M140.00 738.94h6.0 M140.00 730.03h6.0 M140.00 722.30h6.0 M140.00 715.49h6.0 M140.00 709.40h12.3 M265.83 1298.00v-6 M391.66 1298.00v-6 M558.00 1298.00v-12 M683.83 1298.00v-6 M809.66 1298.00v-6 M976.00 1298.00v-12" stroke="#000" stroke-width="1.8" fill="none"/>
<text x="126.80" y="1241.20" font-size="20.5" text-anchor="end">-10</text>
<text x="97.88" y="1253.30" font-size="31" text-anchor="end">10</text>
<text x="126.80" y="1108.05" font-size="20.5" text-anchor="end">-9</text>
<text x="109.28" y="1120.15" font-size="31" text-anchor="end">10</text>
<text x="126.80" y="974.90" font-size="20.5" text-anchor="end">-8</text>
<text x="109.28" y="987.00" font-size="31" text-anchor="end">10</text>
<text x="126.80" y="841.75" font-size="20.5" text-anchor="end">-7</text>
<text x="109.28" y="853.85" font-size="31" text-anchor="end">10</text>
<text x="126.80" y="708.60" font-size="20.5" text-anchor="end">-6</text>
<text x="109.28" y="720.70" font-size="31" text-anchor="end">10</text>
<text x="139.50" y="1334.90" font-size="31" text-anchor="middle">1</text>
<text x="265.33" y="1334.90" font-size="31" text-anchor="middle">2</text>
<text x="391.16" y="1334.90" font-size="31" text-anchor="middle">4</text>
<text x="557.50" y="1334.90" font-size="31" text-anchor="middle">10</text>
<text x="683.33" y="1334.90" font-size="31" text-anchor="middle">20</text>
<text x="809.16" y="1334.90" font-size="31" text-anchor="middle">40</text>
<text x="975.50" y="1334.90" font-size="31" text-anchor="middle">100</text>
<text transform="translate(50.00,991.80) rotate(-90)" font-size="35.5" text-anchor="middle">Velocity (m/s√Hz)</text>
<text x="1.50" y="707.00" font-size="34.5" font-weight="bold">(b)</text>
<text x="200.20" y="1095.60" font-size="29.8">X direction</text>
<line x1="202.00" y1="1131.40" x2="242.40" y2="1131.40" stroke="#808080" stroke-width="3.6" stroke-linecap="round"/>
<text x="264.70" y="1142.10" font-size="29.8">Pre-construction</text>
<line x1="202.00" y1="1169.30" x2="242.40" y2="1169.30" stroke="#404040" stroke-width="3.6" stroke-linecap="round"/>
<text x="264.70" y="1179.50" font-size="29.8">Isolated foundation</text>
<line x1="202.00" y1="1207.20" x2="242.40" y2="1207.20" stroke="#00A0FF" stroke-width="3.6" stroke-linecap="round"/>
<text x="264.70" y="1216.90" font-size="29.8">Floating block</text>
<clipPath id="clipc"><rect x="137.4" y="1362.7" width="852.1" height="611.3"/></clipPath>
<g clip-path="url(#clipc)">
<polyline points="137.5,1440.5 158.2,1454.5 178.2,1468.8 194.5,1486.2 211.5,1503.8 225.8,1513.8 239.5,1523.8 263.2,1520.5 284.0,1511.2 304.0,1514.5 322.0,1498.8 337.0,1494.5 352.0,1493.0 365.8,1497.5 377.0,1486.2 380.5,1482.5 390.0,1467.5 400.0,1441.2 411.2,1433.8 420.5,1485.5 430.0,1488.8 438.8,1497.5 447.5,1506.2 455.0,1508.0 462.5,1503.8 470.0,1495.5 477.5,1483.0 485.0,1488.0 491.2,1502.0 497.5,1475.0 503.8,1476.2 510.0,1470.5 516.2,1472.0 521.2,1475.0 526.2,1446.2 531.2,1455.0 537.2,1442.0 541.4,1410.0 546.6,1393.0 551.0,1405.8 555.8,1380.0 560.0,1422.0 564.8,1438.2 572.5,1441.2 576.2,1446.2 581.2,1456.2 585.0,1453.8 588.8,1468.0 597.0,1463.8 597.7,1473.1 599.5,1474.4 601.3,1481.3 602.0,1489.5 603.0,1486.0 604.8,1473.4 606.2,1463.8 608.2,1463.8 610.0,1468.0 611.6,1476.7 613.2,1482.0 614.0,1480.0 614.9,1489.3 616.5,1491.9 617.0,1498.0 618.1,1495.6 620.0,1498.0 621.3,1498.0 622.9,1504.7 624.4,1511.0 626.0,1511.0 626.4,1511.0 627.5,1507.4 629.0,1509.6 630.5,1503.1 632.4,1500.4 633.5,1505.9 635.0,1515.1 636.0,1518.0 636.4,1516.7 637.9,1515.9 639.3,1518.9 640.0,1521.0 640.7,1524.4 642.1,1525.2 643.0,1531.0 643.5,1530.0 644.9,1529.5 646.4,1525.0 647.7,1527.0 649.0,1528.0 650.4,1517.0 652.0,1511.0 653.1,1510.7 654.4,1509.0 655.7,1499.4 657.0,1501.6 658.3,1492.7 659.0,1486.0 659.6,1490.5 660.8,1471.0 662.4,1471.0 663.4,1477.4 664.6,1485.5 665.6,1496.0 667.1,1509.6 667.6,1517.0 668.3,1505.6 669.5,1499.2 670.0,1498.0 670.7,1498.5 671.9,1509.3 673.0,1522.0 674.3,1524.6 675.5,1529.0 677.0,1529.0 677.8,1528.2 678.9,1527.6 680.1,1529.0 681.6,1526.0 682.4,1529.9 683.5,1526.8 684.6,1529.1 686.0,1534.0 686.8,1531.2 687.9,1529.2 689.0,1526.0 690.1,1522.8 691.2,1522.7 692.2,1522.9 693.6,1521.0 694.4,1514.5 695.4,1508.2 696.4,1503.6 697.5,1503.6 698.5,1508.9 699.6,1503.6 700.6,1505.8 701.6,1512.0 702.6,1493.8 703.6,1489.0 705.0,1475.0 705.6,1496.0 706.6,1502.4 707.6,1527.9 708.0,1526.0 708.6,1528.9 709.5,1522.9 710.5,1544.7 711.0,1545.0 711.5,1543.7 712.4,1540.1 713.4,1521.6 714.0,1516.0 715.3,1507.4 716.2,1497.5 717.0,1502.0 718.1,1491.5 719.0,1468.4 719.9,1478.4 720.8,1468.6 721.6,1482.0 722.6,1492.2 723.5,1512.3 724.4,1517.0 725.3,1523.8 726.2,1529.8 727.1,1536.0 727.6,1536.0 728.9,1534.9 729.7,1540.3 730.6,1529.3 731.6,1528.0 732.3,1542.1 733.2,1546.1 734.0,1552.2 735.0,1557.0 735.7,1555.3 736.5,1539.1 737.4,1537.7 738.2,1537.6 739.0,1526.9 740.0,1527.0 740.7,1517.5 741.5,1530.0 742.3,1530.9 743.1,1523.5 744.0,1517.0 744.7,1517.0 745.5,1527.5 746.3,1531.5 747.1,1538.4 747.6,1541.0 748.7,1527.6 749.5,1532.2 750.2,1520.4 751.0,1521.0 751.8,1523.8 752.6,1537.9 753.3,1539.2 754.0,1538.0 754.8,1522.4 755.6,1514.6 756.3,1511.7 757.0,1505.0 757.8,1505.0 758.4,1500.0 759.3,1501.4 760.1,1500.0 760.8,1502.4 761.6,1508.0 762.2,1517.2 763.0,1533.5 763.7,1543.9 764.4,1540.0 765.1,1561.0 765.6,1561.0 766.6,1560.0 767.3,1557.7 768.0,1547.3 769.0,1542.0 770.1,1557.9 770.8,1561.0 771.6,1560.0 772.1,1560.0 772.8,1554.9 773.5,1547.1 774.2,1551.5 774.9,1544.8 775.5,1541.2 776.2,1537.5 777.0,1541.0 777.6,1535.0 778.2,1538.3 778.9,1532.4 779.5,1534.9 780.0,1532.4 780.9,1540.0 781.5,1543.6 782.2,1546.7 782.8,1547.7 783.5,1537.0 784.4,1537.9 785.4,1535.1 786.0,1532.7 786.7,1562.1 787.3,1547.8 787.9,1562.0 788.8,1562.1 789.8,1545.8 790.4,1506.8 791.1,1496.8 791.7,1502.4 792.1,1481.8 792.9,1485.6 793.5,1542.0 794.3,1543.4 794.7,1548.9 795.3,1561.1 795.9,1549.9 796.6,1565.9 797.2,1560.4 797.7,1566.5 798.3,1566.5 798.9,1545.0 799.8,1566.5 800.7,1551.5 801.3,1536.7 801.9,1539.3 802.5,1548.4 803.1,1529.1 803.6,1532.7 804.6,1543.4 805.4,1534.5 805.9,1525.2 806.5,1519.2 807.1,1522.1 807.5,1519.2 808.2,1519.2 808.8,1535.1 809.7,1536.8 810.4,1544.9 811.0,1548.9 811.5,1557.4 812.1,1553.6 813.0,1559.9 813.7,1556.1 814.3,1553.2 814.8,1555.3 815.4,1550.5 816.3,1551.1 817.0,1563.2 817.8,1563.2 818.6,1551.4 819.1,1547.8 819.7,1540.4 820.2,1545.2 820.7,1537.9 821.2,1537.9 821.8,1550.3 822.3,1551.3 822.8,1550.7 823.6,1563.2 824.4,1557.7 824.9,1548.0 825.4,1553.9 826.2,1547.8 826.9,1550.5 827.4,1546.4 827.9,1548.0 828.4,1551.0 828.9,1544.5 829.4,1547.6 830.2,1544.5 830.9,1558.1 831.4,1567.2 831.9,1565.5 832.8,1577.5 833.4,1573.6 833.9,1577.5 834.4,1575.3 834.9,1572.2 835.4,1577.5 835.9,1577.5 836.3,1577.5 836.8,1576.4 837.3,1567.8 837.8,1567.1 838.3,1559.3 838.7,1555.1 839.4,1547.8 840.2,1544.7 840.6,1554.9 841.1,1555.0 841.6,1544.4 842.0,1539.4 842.7,1545.6 843.4,1531.0 843.9,1509.3 844.4,1508.3 844.9,1499.8 845.7,1528.2 846.2,1537.2 846.7,1530.2 847.1,1548.8 847.6,1545.2 848.2,1565.4 848.9,1575.1 849.4,1569.7 849.8,1575.0 850.3,1576.4 850.7,1573.0 851.2,1565.2 851.6,1563.3 852.1,1569.7 852.6,1572.0 853.4,1576.8 853.8,1566.5 854.3,1569.7 854.7,1576.1 855.1,1593.2 855.9,1594.0 858.1,1585.6 858.6,1581.7 859.0,1586.0 859.4,1584.8 859.9,1582.0 860.3,1590.2 860.7,1590.5 861.1,1591.6 861.5,1584.4 862.0,1589.9 862.4,1592.3 862.8,1590.7 863.2,1588.4 863.6,1592.3 864.0,1587.9 864.5,1585.2 864.9,1587.1 865.3,1584.4 865.7,1589.4 866.1,1588.9 866.5,1591.2 866.9,1594.2 867.3,1592.1 867.7,1586.3 868.1,1583.1 868.5,1583.8 869.0,1583.3 869.4,1583.4 869.8,1588.4 870.2,1586.3 870.6,1590.0 871.0,1586.2 871.4,1593.9 871.8,1586.4 872.2,1581.8 872.5,1581.5 872.9,1584.8 873.3,1587.3 873.7,1587.4 874.1,1591.1 874.5,1581.7 874.9,1581.8 875.3,1583.8 875.7,1587.4 876.1,1590.7 876.5,1593.2 876.8,1593.8 877.2,1585.2 877.6,1588.1 878.0,1591.1 878.4,1578.8 878.8,1579.3 879.1,1577.0 879.5,1572.3 879.9,1567.3 880.3,1563.8 880.7,1566.3 881.0,1569.1 881.4,1574.9 881.8,1577.5 882.2,1586.9 882.5,1580.0 882.9,1582.9 883.3,1586.5 883.7,1580.4 884.0,1573.7 884.4,1566.4 884.8,1560.8 885.1,1556.2 885.5,1561.8 885.9,1566.4 886.3,1570.3 886.6,1577.6 887.0,1586.8 887.4,1587.4 887.7,1584.4 888.1,1578.3 888.4,1589.3 888.8,1589.6 889.2,1587.0 889.5,1591.6 889.9,1590.8 890.2,1591.9 890.6,1588.6 891.0,1583.0 891.3,1586.1 891.7,1578.9 892.0,1581.6 892.4,1580.0 892.7,1583.1 893.1,1582.1 893.4,1583.6 893.8,1587.0 894.1,1588.9 894.5,1581.1 894.8,1582.8 895.2,1580.7 895.5,1586.9 895.9,1587.2 896.2,1590.5 896.6,1587.8 896.9,1590.7 897.3,1586.5 897.6,1591.8 898.0,1586.1 898.3,1580.6 898.7,1580.9 899.0,1586.2 899.3,1587.3 899.7,1588.6 900.0,1593.2 900.4,1593.3 900.7,1593.4 901.0,1590.6 901.4,1593.7 901.7,1591.8 902.0,1587.9 902.4,1583.3 902.7,1581.1 903.1,1579.8 903.4,1582.0 903.7,1585.5 904.1,1585.1 904.4,1586.9 904.7,1586.2 905.0,1588.5 905.4,1582.9 905.7,1591.1 906.0,1596.8 906.4,1593.0 906.7,1593.1 907.0,1591.5 907.3,1585.2 907.7,1588.9 908.0,1585.0 908.3,1589.8 908.7,1584.8 909.0,1584.9 909.3,1584.4 909.6,1589.6 909.9,1593.5 910.3,1596.0 910.6,1595.3 910.9,1595.2 911.2,1584.8 911.5,1587.9 911.9,1590.0 912.2,1585.8 912.5,1592.6 912.8,1595.7 913.1,1581.8 913.4,1591.4 913.8,1581.5 914.1,1580.5 914.4,1584.0 914.7,1594.8 915.0,1596.7 915.3,1595.6 915.6,1592.9 916.0,1590.2 916.3,1583.6 916.6,1589.3 916.9,1592.5 917.2,1581.4 917.5,1581.8 917.8,1594.6 918.1,1597.4 918.4,1594.1 918.7,1590.0 919.0,1585.1 919.4,1587.9 919.7,1588.9 920.0,1587.0 920.3,1586.2 920.6,1585.7 920.9,1584.9 921.2,1586.8 921.5,1587.9 921.8,1581.6 922.1,1578.6 922.4,1576.5 922.7,1575.8 923.0,1578.3 923.3,1577.5 923.6,1580.8 923.9,1587.3 924.2,1588.4 924.5,1585.1 924.8,1595.9 925.1,1589.5 925.4,1588.3 925.7,1593.0 926.0,1585.2 926.2,1582.0 926.5,1596.3 926.8,1582.7 927.1,1581.4 927.4,1582.1 927.7,1585.6 928.0,1580.5 928.3,1580.9 928.6,1597.0 928.9,1597.5 929.2,1588.0 929.5,1594.4 929.7,1596.6 930.0,1596.1 930.3,1595.9 930.6,1596.8 930.9,1593.9 931.2,1597.5 931.5,1597.5 931.8,1592.6 932.0,1597.5 932.3,1597.5 932.6,1597.5 932.9,1589.9 933.2,1583.5 933.5,1580.5 933.7,1580.5 934.0,1583.0 934.3,1580.5 934.6,1581.7 934.9,1584.6 935.1,1587.0 935.4,1588.7 935.7,1581.8 936.0,1579.0 936.3,1579.8 936.5,1579.6 936.8,1577.8 937.1,1579.0 937.4,1581.1 937.7,1583.6 937.9,1587.7 938.2,1586.6 938.5,1591.4 938.8,1590.6 939.0,1595.3 939.3,1595.3 939.6,1580.8 939.8,1580.6 940.1,1580.5 940.4,1583.1 940.7,1585.0 940.9,1582.6 941.2,1580.5 941.5,1586.7 941.7,1584.4 942.0,1582.7 942.3,1590.5 942.6,1586.0 942.8,1580.5 943.1,1584.5 943.4,1584.4 943.6,1590.3 943.9,1594.8 944.2,1593.3 944.4,1594.0 944.7,1587.8 945.0,1590.9 945.2,1588.0 945.5,1589.4 945.8,1594.7 946.0,1585.8 946.3,1593.2 946.5,1587.3 946.8,1586.3 947.1,1580.5 947.3,1584.0 947.6,1588.5 947.9,1597.4 948.1,1588.6 948.4,1590.0 948.6,1580.5 948.9,1588.7 949.2,1589.9 949.4,1589.6 949.7,1587.0 949.9,1586.9 950.2,1591.0 950.5,1593.7 950.7,1597.4 951.0,1591.5 951.2,1590.2 951.5,1580.5 951.7,1580.7 952.0,1584.8 952.2,1585.2 952.5,1589.1 952.8,1583.6 953.0,1580.5 953.3,1581.5 953.5,1583.8 953.8,1593.2 954.0,1592.8 954.3,1588.1 954.5,1586.0 954.8,1587.8 955.0,1586.0 955.3,1583.6 955.5,1581.8 955.8,1582.2 956.0,1586.0 956.3,1586.5 956.5,1586.0 956.8,1585.2 957.0,1588.9 957.3,1589.9 957.5,1590.6 957.8,1581.2 958.0,1589.9 958.3,1580.5 958.5,1581.3 958.8,1580.5 959.0,1580.5 959.2,1580.5 959.5,1583.8 959.7,1581.7 960.0,1586.6 960.2,1589.1 960.5,1587.3 960.7,1590.1 961.0,1587.2 961.2,1586.7 961.4,1589.4 961.7,1596.5 961.9,1587.9 962.2,1591.9 962.4,1589.2 962.6,1592.6 962.9,1584.9 963.1,1596.4 963.4,1588.2 963.6,1592.8 963.8,1587.9 964.1,1586.1 964.3,1586.3 964.6,1586.2 964.8,1592.9 965.0,1587.4 965.3,1592.2 965.5,1590.7 965.8,1588.5 966.0,1585.4 966.2,1584.9 966.5,1579.8 966.7,1580.6 966.9,1578.8 967.2,1580.3 967.4,1581.5 967.6,1582.9 967.9,1587.3 968.1,1587.1 968.3,1584.4 968.6,1585.0 968.8,1580.5 969.0,1581.3 969.3,1585.6 969.5,1582.5 969.7,1588.5 970.0,1586.2 970.2,1590.0 970.4,1595.8 970.7,1590.9 970.9,1589.4 971.1,1584.7 971.3,1583.2 971.6,1585.5 971.8,1590.8 972.0,1592.3 972.3,1590.9 972.5,1589.3 972.7,1590.8 972.9,1591.8 973.2,1590.1 973.4,1590.6 973.6,1584.9 973.9,1580.5 974.1,1586.3 974.3,1581.8 974.5,1582.6 974.8,1580.5 975.0,1585.5" fill="none" stroke="#808080" stroke-width="3.5" stroke-linejoin="round" stroke-linecap="round"/>
<polyline points="137.5,1511.2 159.0,1513.8 178.2,1538.0 195.8,1538.0 211.5,1541.2 225.8,1548.8 239.0,1576.2 252.0,1568.8 263.2,1576.2 275.0,1568.0 285.0,1557.0 295.0,1549.5 304.0,1575.0 312.5,1567.0 322.0,1548.8 329.5,1553.0 337.0,1571.2 344.5,1562.5 358.2,1562.5 365.8,1567.0 372.0,1558.8 377.0,1540.0 383.8,1524.5 389.5,1536.2 395.5,1540.5 405.0,1493.8 411.2,1501.2 420.0,1531.2 426.2,1527.0 429.5,1527.0 433.8,1523.8 438.8,1523.8 443.0,1520.5 447.5,1556.2 451.2,1567.0 454.5,1552.5 458.8,1552.5 463.0,1561.2 467.0,1561.2 470.0,1545.5 474.5,1545.5 478.0,1577.0 481.2,1577.0 484.5,1568.0 487.5,1573.8 493.8,1555.0 497.0,1573.8 500.0,1575.0 503.0,1580.0 506.2,1591.2 512.5,1553.0 517.5,1564.5 521.2,1553.8 526.2,1488.8 529.5,1490.0 533.8,1562.5 537.0,1547.5 541.2,1497.0 544.5,1497.0 547.0,1483.8 548.8,1505.0 552.0,1500.0 557.5,1478.8 563.8,1510.0 566.2,1501.2 568.0,1517.5 570.5,1506.2 573.0,1523.8 576.2,1538.8 581.2,1488.0 586.2,1523.8 588.0,1515.0 590.5,1516.2 594.5,1536.2 597.5,1518.8 599.5,1535.9 601.2,1540.0 603.0,1512.2 604.5,1483.8 606.5,1491.3 608.2,1512.5 608.8,1526.2 610.0,1526.0 611.6,1530.9 613.2,1541.5 614.4,1543.0 614.9,1541.8 616.5,1569.1 618.1,1592.3 619.0,1596.0 619.7,1590.3 621.3,1594.8 623.0,1577.6 624.4,1583.3 626.0,1591.1 626.4,1587.0 627.5,1583.8 629.0,1584.2 630.0,1570.0 630.5,1564.6 632.0,1544.3 633.0,1541.6 633.5,1541.6 635.0,1578.0 636.4,1565.0 638.0,1560.0 639.3,1556.8 641.0,1555.6 642.0,1570.0 643.5,1544.6 644.0,1543.6 644.9,1553.6 646.4,1578.0 647.7,1562.5 649.0,1536.3 650.0,1530.0 651.7,1530.0 653.0,1540.0 654.4,1539.4 655.7,1530.0 656.4,1532.4 657.0,1535.1 658.0,1545.0 659.6,1546.7 660.8,1543.2 662.4,1552.0 663.4,1567.3 664.0,1576.0 664.6,1571.9 665.8,1570.5 667.0,1556.0 668.3,1573.4 669.0,1583.0 669.5,1583.0 670.7,1568.8 671.9,1574.1 673.0,1558.0 674.3,1568.7 675.6,1555.0 676.6,1542.8 677.8,1524.7 678.4,1510.0 678.9,1517.7 680.1,1553.8 681.6,1564.0 682.4,1555.2 683.5,1560.8 685.0,1549.0 685.7,1550.8 686.8,1577.5 687.6,1601.0 689.0,1564.4 690.4,1547.0 691.2,1558.4 692.0,1579.0 693.3,1578.2 694.4,1580.3 695.4,1584.0 696.0,1584.0 696.5,1590.2 697.5,1581.9 698.5,1582.0 699.6,1569.0 700.6,1591.1 701.0,1597.0 701.6,1593.0 702.6,1582.5 703.6,1574.0 704.6,1574.9 705.6,1573.2 707.0,1573.0 707.6,1599.7 708.0,1619.0 708.6,1609.6 709.5,1619.8 710.5,1618.1 711.0,1608.0 711.5,1625.5 712.4,1635.0 713.4,1623.2 714.3,1607.7 715.0,1589.0 716.2,1593.0 717.1,1604.8 718.0,1612.0 719.0,1599.5 719.9,1568.0 720.8,1575.5 721.6,1543.6 722.6,1586.5 723.5,1606.3 724.0,1595.0 724.4,1595.0 725.3,1558.5 726.2,1552.9 727.1,1532.7 727.6,1512.0 728.9,1519.3 729.7,1548.8 730.6,1556.6 731.0,1552.0 731.5,1553.8 732.3,1576.8 733.2,1562.9 734.0,1580.0 734.9,1581.4 735.7,1589.4 736.5,1590.7 737.4,1586.6 738.4,1584.0 739.0,1592.5 739.9,1589.8 740.7,1599.8 741.5,1630.2 742.0,1624.0 743.1,1633.2 743.9,1618.2 745.0,1635.0 745.5,1635.0 746.3,1605.4 747.1,1597.0 747.9,1597.9 748.7,1586.7 749.5,1585.6 750.0,1576.0 751.0,1596.1 751.8,1581.8 752.6,1589.0 753.3,1604.7 754.0,1608.0 754.8,1617.1 755.6,1605.7 756.3,1609.3 757.1,1626.0 758.0,1626.0 758.6,1626.1 759.3,1620.3 760.1,1611.7 760.8,1608.8 761.5,1613.2 762.0,1612.0 763.0,1616.3 764.0,1640.0 764.4,1650.4 765.1,1648.4 765.8,1660.0 766.6,1660.0 767.0,1660.0 768.0,1641.8 768.7,1644.0 769.4,1612.0 770.0,1612.0 770.8,1603.5 771.4,1657.6 772.0,1650.0 772.8,1605.6 773.5,1576.7 774.2,1571.6 775.0,1530.0 775.5,1561.2 776.2,1548.7 776.9,1633.9 777.6,1646.6 778.0,1640.0 780.2,1587.1 780.9,1623.8 781.5,1616.1 782.2,1624.2 782.8,1628.4 783.5,1637.8 784.1,1633.2 784.8,1623.1 785.4,1615.3 786.0,1633.2 786.7,1612.8 787.3,1630.4 787.9,1629.5 788.6,1624.4 789.2,1607.0 789.8,1591.8 790.4,1604.0 791.1,1622.8 791.7,1638.6 792.3,1645.4 792.9,1642.7 793.5,1646.2 794.1,1631.2 794.7,1636.1 795.3,1640.4 795.9,1630.4 796.6,1622.0 797.2,1629.5 797.7,1630.1 798.3,1623.1 798.9,1637.6 799.5,1634.1 800.1,1612.9 800.7,1618.6 801.3,1641.6 801.9,1635.0 802.5,1605.2 803.0,1573.3 803.6,1554.0 804.2,1575.7 804.8,1592.6 805.4,1601.5 805.9,1628.7 806.5,1626.2 807.1,1654.0 807.6,1648.5 808.2,1641.6 808.8,1600.5 809.3,1622.0 809.9,1617.1 810.4,1616.3 811.0,1589.3 811.5,1612.0 812.1,1588.2 812.6,1560.4 813.2,1536.8 813.7,1560.2 814.3,1591.6 814.8,1610.0 815.4,1662.1 815.9,1652.8 816.5,1661.6 817.0,1598.3 817.5,1632.8 818.1,1644.9 818.6,1657.3 819.1,1665.8 819.7,1635.8 820.2,1628.5 820.7,1635.8 821.2,1623.6 821.8,1662.2 822.3,1670.4 822.8,1660.5 823.3,1624.2 823.8,1610.5 824.4,1584.5 824.9,1551.8 825.4,1583.7 825.9,1594.1 826.4,1644.1 826.9,1654.0 827.4,1655.4 827.9,1659.8 828.4,1667.5 828.9,1669.1 829.4,1628.6 829.9,1675.5 830.4,1672.6 830.9,1670.2 831.4,1650.9 831.9,1648.0 832.4,1660.1 832.9,1652.8 833.4,1658.1 833.9,1679.3 834.4,1684.5 834.9,1684.2 835.4,1652.2 835.9,1645.4 836.3,1667.0 836.8,1684.4 837.3,1656.5 837.8,1651.2 838.3,1662.2 838.7,1655.3 839.2,1659.8 839.7,1652.6 840.2,1658.5 840.6,1631.4 841.1,1599.3 841.6,1573.8 842.0,1594.8 842.5,1599.3 843.0,1595.4 843.4,1573.8 843.9,1598.9 844.4,1626.9 844.8,1628.6 845.3,1622.9 845.7,1600.7 846.2,1573.8 846.7,1607.0 847.1,1634.4 847.6,1658.5 848.0,1667.9 848.5,1680.3 848.9,1673.0 849.4,1682.0 849.8,1678.0 850.3,1676.8 850.7,1712.6 851.2,1705.6 851.6,1714.5 852.1,1696.2 852.5,1688.0 852.9,1687.0 853.4,1700.7 853.8,1724.1 854.3,1707.2 854.7,1698.8 855.1,1688.6 855.6,1707.2 856.0,1703.4 856.4,1732.0 856.9,1713.7 857.3,1691.5 857.7,1700.6 858.1,1651.6 858.6,1632.4 859.0,1612.2 859.4,1626.1 859.9,1640.0 860.3,1680.7 860.7,1718.2 861.1,1724.7 861.5,1721.0 862.0,1715.7 862.4,1730.5 862.8,1720.2 863.2,1717.2 863.6,1714.3 864.0,1707.5 864.5,1753.5 864.9,1723.1 865.3,1707.4 865.7,1736.6 866.1,1677.3 866.5,1724.5 866.9,1726.1 867.3,1694.1 867.7,1716.7 868.1,1695.1 868.5,1708.7 869.0,1689.3 869.4,1723.5 869.8,1742.7 870.2,1712.5 870.6,1708.8 871.0,1687.6 871.4,1728.2 871.8,1727.6 872.2,1716.5 872.5,1725.3 872.9,1709.2 873.3,1719.6 873.7,1712.4 874.1,1724.6 874.5,1678.8 874.9,1699.6 875.3,1682.7 875.7,1670.9 876.1,1678.5 876.5,1685.8 876.8,1687.2 877.2,1663.1 877.6,1644.9 878.0,1620.0 878.4,1634.9 878.8,1658.3 879.1,1683.3 879.5,1708.6 879.9,1729.6 880.3,1737.7 880.7,1709.7 881.0,1708.9 881.4,1699.9 881.8,1689.5 882.2,1719.8 882.5,1744.3 882.9,1692.4 883.3,1657.7 883.7,1693.8 884.0,1699.9 884.4,1740.2 884.8,1747.6 885.1,1748.2 885.5,1739.7 885.9,1749.3 886.3,1699.6 886.6,1682.9 887.0,1687.8 887.4,1751.5 887.7,1731.9 888.1,1747.8 888.4,1739.0 888.8,1701.1 889.2,1694.9 889.5,1679.6 889.9,1711.5 890.2,1715.2 890.6,1692.0 891.0,1722.4 891.3,1698.8 891.7,1745.7 892.0,1722.5 892.4,1717.8 892.7,1755.3 893.1,1704.8 893.4,1687.2 893.8,1687.9 894.1,1722.9 894.5,1740.5 894.8,1747.9 895.2,1733.6 895.5,1714.0 895.9,1692.3 896.2,1710.9 896.6,1742.5 896.9,1743.9 897.3,1696.4 897.6,1722.3 898.0,1711.3 898.3,1714.1 898.7,1732.8 899.0,1761.7 899.3,1706.8 899.7,1732.5 900.0,1732.8 900.4,1762.7 900.7,1762.3 901.0,1734.7 901.4,1731.7 901.7,1714.4 902.0,1714.1 902.4,1734.5 902.7,1742.8 903.1,1741.1 903.4,1710.5 903.7,1733.6 904.1,1753.2 904.4,1765.8 904.7,1760.1 905.0,1742.8 905.4,1719.8 905.7,1766.8 906.0,1758.8 906.4,1737.2 906.7,1743.8 907.0,1710.4 907.3,1710.4 907.7,1710.4 908.0,1731.0 908.3,1743.5 908.7,1725.6 909.0,1736.2 909.3,1755.3 909.6,1748.3 909.9,1754.0 910.3,1727.6 910.6,1744.2 910.9,1716.4 911.2,1725.6 911.5,1714.9 911.9,1715.5 912.2,1741.6 912.5,1734.5 912.8,1746.3 913.1,1752.0 913.4,1730.7 913.8,1742.3 914.1,1754.8 914.4,1735.5 914.7,1743.3 915.0,1769.3 915.3,1771.6 915.6,1771.7 916.0,1749.2 916.3,1745.9 916.6,1739.8 916.9,1710.2 917.2,1724.7 917.5,1716.0 917.8,1732.0 918.1,1772.7 918.4,1772.8 918.7,1772.9 919.0,1745.6 919.4,1736.7 919.7,1734.4 920.0,1738.5 920.3,1735.4 920.6,1741.6 920.9,1758.7 921.2,1739.9 921.5,1751.8 921.8,1725.1 922.1,1744.3 922.4,1768.9 922.7,1729.7 923.0,1747.4 923.3,1774.7 923.6,1774.8 923.9,1741.6 924.2,1734.6 924.5,1737.8 924.8,1724.1 925.1,1730.1 925.4,1742.2 925.7,1775.6 926.0,1722.0 926.2,1739.9 926.5,1775.8 926.8,1762.3 927.1,1750.1 927.4,1725.5 927.7,1735.1 928.0,1715.7 928.3,1726.5 928.6,1735.5 928.9,1744.2 929.2,1748.2 929.5,1758.9 929.7,1736.2 930.0,1725.1 930.3,1732.6 930.6,1717.7 930.9,1731.4 931.2,1740.6 931.5,1731.1 931.8,1705.0 932.0,1704.7 932.3,1749.3 932.6,1756.1 932.9,1765.9 933.2,1761.2 933.5,1758.5 933.7,1766.4 934.0,1739.9 934.3,1778.3 934.6,1757.3 934.9,1723.2 935.1,1736.2 935.4,1747.6 935.7,1709.9 936.0,1722.7 936.3,1728.0 936.5,1778.9 936.8,1779.0 937.1,1746.9 937.4,1726.7 937.7,1747.4 937.9,1712.6 938.2,1705.9 938.5,1697.2 938.8,1719.2 939.0,1765.0 939.3,1722.2 939.6,1711.5 939.8,1758.7 940.1,1712.5 940.4,1706.8 940.7,1735.9 940.9,1734.3 941.2,1741.4 941.5,1693.8 941.7,1707.6 942.0,1728.7 942.3,1694.9 942.6,1702.0 942.8,1701.9 943.1,1732.1 943.4,1715.8 943.6,1710.1 943.9,1730.8 944.2,1776.0 944.4,1744.7 944.7,1764.4 945.0,1749.4 945.2,1781.3 945.5,1746.1 945.8,1758.7 946.0,1735.2 946.3,1747.6 946.5,1777.1 946.8,1762.6 947.1,1735.4 947.3,1725.4 947.6,1704.8 947.9,1701.1 948.1,1716.7 948.4,1688.1 948.6,1682.6 948.9,1666.7 949.2,1679.0 949.4,1700.0 949.7,1716.7 949.9,1705.6 950.2,1711.9 950.5,1733.6 950.7,1742.0 951.0,1764.6 951.2,1749.3 951.5,1708.9 951.7,1765.5 952.0,1715.9 952.2,1743.4 952.5,1731.3 952.8,1753.4 953.0,1753.9 953.3,1744.5 953.5,1772.8 953.8,1741.3 954.0,1752.4 954.3,1778.0 954.5,1757.5 954.8,1752.9 955.0,1731.8 955.3,1726.6 955.5,1745.7 955.8,1775.2 956.0,1749.2 956.3,1715.9 956.5,1745.1 956.8,1731.9 957.0,1776.7 957.3,1732.4 957.5,1769.3 957.8,1769.0 958.0,1784.7 958.3,1742.7 958.5,1769.8 958.8,1764.6 959.0,1736.6 959.2,1771.2 959.5,1760.5 959.7,1727.9 960.0,1754.2 960.2,1756.1 960.5,1744.1 960.7,1725.8 961.0,1726.6 961.2,1703.3 961.4,1719.5 961.7,1740.2 961.9,1750.0 962.2,1729.6 962.4,1786.4 962.6,1786.6 962.9,1737.4 963.1,1751.7 963.4,1742.4 963.6,1744.6 963.8,1744.0 964.1,1787.5 964.3,1787.7 964.6,1787.9 964.8,1718.0 965.0,1721.8 965.3,1753.3 965.5,1711.2 965.8,1739.0 966.0,1741.1 966.2,1723.9 966.5,1769.6 966.7,1724.9 966.9,1739.6 967.2,1737.7 967.4,1752.7 967.6,1714.6 967.9,1790.1 968.1,1766.3 968.3,1774.7 968.6,1768.9 968.8,1729.4 969.0,1755.8 969.3,1703.9 969.5,1720.4 969.7,1715.7 970.0,1693.9 970.2,1732.1 970.4,1755.3 970.7,1749.3 970.9,1746.1 971.1,1756.9 971.3,1763.9 971.6,1735.4 971.8,1738.9 972.0,1716.2 972.3,1777.3 972.5,1778.6 972.7,1793.3 972.9,1771.5 973.2,1717.8 973.4,1742.1" fill="none" stroke="#404040" stroke-width="3.5" stroke-linejoin="round" stroke-linecap="round"/>
<polyline points="137.5,1419.5 158.2,1433.0 178.2,1444.5 195.8,1472.5 211.5,1471.2 225.8,1473.8 239.5,1487.5 252.0,1483.0 263.2,1482.0 275.0,1479.5 285.0,1482.0 294.0,1527.5 304.0,1529.5 312.5,1523.0 322.0,1537.0 329.5,1558.0 336.5,1556.2 351.5,1555.5 358.2,1562.5 365.8,1582.0 373.2,1590.5 375.0,1591.2 383.8,1601.2 389.5,1600.0 395.0,1611.2 400.0,1609.5 405.0,1616.2 410.5,1627.5 416.2,1622.0 422.0,1624.5 426.2,1627.5 429.5,1635.0 434.5,1626.2 438.8,1629.5 442.5,1629.5 447.0,1641.2 451.2,1627.5 456.2,1635.0 460.0,1637.5 463.0,1656.2 467.0,1650.5 470.0,1655.0 473.8,1648.8 481.2,1665.5 483.9,1649.1 487.3,1654.3 490.9,1676.4 494.3,1655.1 497.7,1669.9 500.8,1670.7 503.9,1679.5 507.3,1680.3 510.7,1689.4 513.3,1695.1 515.1,1694.6 518.5,1681.6 522.9,1683.7 526.3,1680.3 528.9,1657.7 532.0,1685.5 534.6,1686.3 536.7,1679.5 539.3,1693.3 541.9,1686.3 545.5,1694.6 548.9,1697.2 552.8,1694.6 555.9,1705.0 558.0,1691.5 562.7,1689.9 564.5,1713.3 567.1,1702.4 569.7,1672.5 573.6,1673.8 576.7,1680.3 579.3,1670.7 582.7,1669.9 585.3,1666.5 589.2,1685.5 592.3,1684.2 594.4,1682.1 598.3,1698.5 599.5,1680.9 600.1,1680.3 601.3,1676.3 602.7,1660.8 604.8,1656.1 605.3,1656.1 606.5,1667.0 607.4,1676.4 608.2,1676.6 609.5,1669.1 611.3,1688.1 613.2,1690.4 614.7,1690.7 616.5,1689.9 618.1,1698.7 619.1,1698.5 619.7,1718.4 620.4,1732.3 621.3,1733.2 623.0,1735.7 624.4,1733.7 625.6,1724.5 627.5,1720.9 628.7,1716.7 630.8,1728.4 632.0,1730.9 632.9,1737.5 633.5,1736.3 635.0,1735.8 636.0,1736.2 636.4,1740.3 637.9,1742.1 638.6,1744.0 639.3,1747.6 640.7,1752.5 641.7,1754.4 642.1,1751.0 643.8,1750.5 644.9,1756.4 646.4,1759.6 647.7,1749.6 648.5,1748.7 649.0,1747.4 650.3,1746.1 651.7,1730.3 652.9,1717.5 654.7,1694.6 655.7,1713.5 657.3,1741.4 658.3,1752.9 659.4,1767.4 660.8,1749.6 661.5,1745.3 662.1,1745.2 663.4,1743.5 664.1,1743.5 664.6,1752.2 665.1,1759.6 665.8,1756.1 667.2,1758.3 668.3,1754.2 669.8,1741.4 670.7,1753.6 671.9,1753.2 672.9,1769.5 674.3,1748.7 675.5,1749.2 676.6,1742.4 677.8,1740.2 678.9,1732.3 680.1,1739.4 681.2,1754.1 682.3,1762.2 683.5,1757.0 684.6,1759.7 685.4,1766.1 686.8,1743.5 687.5,1743.5 687.9,1748.3 689.3,1772.1 690.1,1765.0 691.2,1762.5 691.9,1762.2 693.3,1758.3 694.5,1758.3 695.4,1762.1 696.5,1765.4 697.1,1768.7 698.5,1759.8 699.7,1760.9 700.6,1769.5 701.6,1774.5 702.3,1784.3 703.6,1790.9 704.6,1787.7 705.6,1790.9 706.6,1780.5 707.6,1771.7 708.6,1760.7 709.0,1755.7 709.5,1755.7 710.5,1755.7 711.5,1755.7 711.9,1763.3 712.4,1768.4 713.4,1757.1 713.8,1760.8 714.3,1770.9 715.3,1779.0 716.3,1783.3 717.1,1776.2 718.1,1743.0 718.8,1731.9 719.9,1726.9 720.8,1726.9 721.3,1726.9 721.7,1738.0 722.6,1768.6 723.2,1772.0 724.4,1715.2 725.3,1672.1 726.3,1635.3 727.1,1625.0 728.0,1613.5 728.9,1630.3 729.7,1620.5 730.6,1610.2 731.4,1610.2 732.3,1623.2 733.2,1620.2 734.0,1584.7 735.1,1580.1 735.7,1587.0 736.5,1585.2 737.6,1614.0 738.2,1606.3 739.0,1639.4 739.9,1679.2 740.7,1671.7 741.5,1716.9 742.7,1735.7 743.3,1792.1 743.9,1790.3 744.7,1772.8 745.8,1780.8 747.1,1799.9 747.9,1789.7 748.7,1801.5 749.5,1803.7 750.2,1793.8 751.0,1794.0 751.8,1790.2 752.6,1798.6 753.3,1804.6 754.1,1802.1 754.8,1798.9 755.6,1812.0 756.3,1809.9 757.1,1816.5 757.8,1817.0 758.6,1804.7 759.3,1811.0 760.1,1791.6 760.8,1797.7 761.5,1799.7 762.2,1811.0 763.0,1812.1 763.7,1805.9 764.4,1804.1 765.1,1804.4 765.8,1806.2 766.6,1814.7 767.3,1818.0 768.0,1803.0 768.7,1796.1 769.4,1797.7 770.1,1793.8 770.8,1804.4 771.4,1810.1 772.1,1814.3 772.8,1810.2 773.5,1821.5 774.2,1811.6 774.9,1797.0 775.5,1803.5 776.2,1797.0 776.9,1813.3 777.6,1799.9 778.2,1797.0 778.9,1809.2 779.5,1818.1 780.2,1814.2 780.9,1817.4 781.5,1805.1 782.2,1803.6 782.8,1818.1 783.5,1809.9 784.1,1829.6 784.8,1814.2 785.4,1830.4 786.0,1814.9 786.7,1817.3 787.3,1816.1 787.9,1825.1 788.6,1810.6 789.2,1814.5 789.8,1820.6 790.4,1823.5 791.1,1831.8 791.7,1813.8 792.3,1825.8 792.9,1816.4 793.5,1819.8 794.1,1836.0 794.7,1832.0 795.3,1823.6 795.9,1817.4 796.6,1837.8 797.2,1838.2 797.7,1830.6 798.3,1835.5 798.9,1839.4 799.5,1817.2 800.1,1817.2 800.7,1815.0 801.3,1833.0 801.9,1831.6 802.5,1826.0 803.0,1804.6 803.6,1812.4 804.2,1831.9 804.8,1844.0 805.4,1837.5 805.9,1820.1 806.5,1826.4 807.1,1812.2 807.6,1825.7 808.2,1831.0 808.8,1834.3 809.3,1830.8 809.9,1845.0 810.4,1827.2 811.0,1828.2 811.5,1843.0 812.1,1841.6 812.6,1850.0 813.2,1850.2 813.7,1827.5 814.3,1814.1 814.8,1821.6 815.4,1822.8 815.9,1830.6 816.5,1817.3 817.0,1834.0 817.5,1843.3 818.1,1838.5 818.6,1851.7 819.1,1851.9 819.7,1823.9 820.2,1826.6 820.7,1816.6 821.2,1816.5 821.8,1841.9 822.3,1843.1 822.8,1836.6 823.3,1843.1 823.8,1830.5 824.4,1828.9 824.9,1840.0 825.4,1838.2 825.9,1847.8 826.4,1819.2 826.9,1846.2 827.4,1851.3 827.9,1849.0 828.4,1855.5 828.9,1850.0 829.4,1847.4 829.9,1846.6 830.4,1845.0 830.9,1848.2 831.4,1856.7 831.9,1851.5 832.4,1836.0 832.9,1832.4 833.4,1829.9 833.9,1837.2 834.4,1850.6 834.9,1861.3 835.4,1834.8 835.9,1822.3 836.3,1819.2 836.8,1822.8 837.3,1825.1 837.8,1838.4 838.3,1841.7 838.7,1851.9 839.2,1825.1 839.7,1822.5 840.2,1821.5 840.6,1828.6 841.1,1845.7 841.6,1849.6 842.0,1831.2 842.5,1826.0 843.0,1827.6 843.4,1817.1 843.9,1808.8 844.4,1812.8 844.8,1835.4 845.3,1839.9 845.7,1825.0 846.2,1842.6 846.7,1863.5 847.1,1856.7 847.6,1852.1 848.0,1863.5 848.5,1860.4 848.9,1844.9 849.4,1862.5 849.8,1838.4 850.3,1828.8 850.7,1829.2 851.2,1837.4 851.6,1852.4 852.1,1842.4 852.5,1845.1 852.9,1838.8 853.4,1851.0 853.8,1846.0 854.3,1831.8 854.7,1842.5 855.1,1849.8 855.6,1833.2 856.0,1831.5 856.4,1839.1 856.9,1856.4 857.3,1861.8 857.7,1852.9 858.1,1850.0 858.6,1836.2 859.0,1846.5 859.4,1846.8 859.9,1858.8 860.3,1850.4 860.7,1851.5 861.1,1830.4 861.5,1839.2 862.0,1833.6 862.4,1849.6 862.8,1846.9 863.2,1842.1 863.6,1848.8 864.0,1847.6 864.5,1846.1 864.9,1855.2 865.3,1834.3 865.7,1854.9 866.1,1849.5 866.5,1851.2 866.9,1857.6 867.3,1867.3 867.7,1861.7 868.1,1853.3 868.5,1850.0 869.0,1849.3 869.4,1845.5 869.8,1838.6 870.2,1832.4 870.6,1856.6 871.0,1852.1 871.4,1853.7 871.8,1847.7 872.2,1868.0 872.5,1852.7 872.9,1854.0 873.3,1849.9 873.7,1859.7 874.1,1863.6 874.5,1845.7 874.9,1863.3 875.3,1862.0 875.7,1870.0 876.1,1853.8 876.5,1850.0 876.8,1838.5 877.2,1849.5 877.6,1854.7 878.0,1834.4 878.4,1831.7 878.8,1831.5 879.1,1850.2 879.5,1841.8 879.9,1836.9 880.3,1832.4 880.7,1829.6 881.0,1821.7 881.4,1813.8 881.8,1820.8 882.2,1821.0 882.5,1823.6 882.9,1842.9 883.3,1852.8 883.7,1835.7 884.0,1841.6 884.4,1844.3 884.8,1864.3 885.1,1868.4 885.5,1865.1 885.9,1860.3 886.3,1829.2 886.6,1838.6 887.0,1836.0 887.4,1827.5 887.7,1835.7 888.1,1851.6 888.4,1846.7 888.8,1834.4 889.2,1847.2 889.5,1859.2 889.9,1865.5 890.2,1864.7 890.6,1863.5 891.0,1862.4 891.3,1855.4 891.7,1860.0 892.0,1858.5 892.4,1853.9 892.7,1848.9 893.1,1824.8 893.4,1845.8 893.8,1831.5 894.1,1815.7 894.5,1813.5 894.8,1818.7 895.2,1812.1 895.5,1820.2 895.9,1811.4 896.2,1827.2 896.6,1829.3 896.9,1830.6 897.3,1830.7 897.6,1828.5 898.0,1818.5 898.3,1825.0 898.7,1816.7 899.0,1818.4 899.3,1821.2 899.7,1818.3 900.0,1818.1 900.4,1819.2 900.7,1814.3 901.0,1822.3 901.4,1819.2 901.7,1826.6 902.0,1834.6 902.4,1819.5 902.7,1836.0 903.1,1829.9 903.4,1804.5 903.7,1802.0 904.1,1820.7 904.4,1811.0 904.7,1811.1 905.0,1811.4 905.4,1828.4 905.7,1816.9 906.0,1809.6 906.4,1802.3 906.7,1833.3 907.0,1823.9 907.3,1816.2 907.7,1819.4 908.0,1813.3 908.3,1839.8 908.7,1828.7 909.0,1840.6 909.3,1820.7 909.6,1832.3 909.9,1822.3 910.3,1818.6 910.6,1827.0 910.9,1829.1 911.2,1817.9 911.5,1832.5 911.9,1833.3 912.2,1827.8 912.5,1821.6 912.8,1809.6 913.1,1823.6 913.4,1844.7 913.8,1824.9 914.1,1824.0 914.4,1817.7 914.7,1835.0 915.0,1822.6 915.3,1847.4 915.6,1834.7 916.0,1825.9 916.3,1822.8 916.6,1839.8 916.9,1829.3 917.2,1832.0 917.5,1846.1 917.8,1848.9 918.1,1849.8 918.4,1831.5 918.7,1849.9 919.0,1845.8 919.4,1826.8 919.7,1848.7 920.0,1826.6 920.3,1823.8 920.6,1833.1 920.9,1853.0 921.2,1849.9 921.5,1844.6 921.8,1841.5 922.1,1831.9 922.4,1822.2 922.7,1819.2 923.0,1818.8 923.3,1824.3 923.6,1838.8 923.9,1847.8 924.2,1859.8 924.5,1868.3 924.8,1875.3 925.1,1879.8 925.4,1872.6 925.7,1867.2 926.0,1862.9 926.2,1848.2 926.5,1850.7 926.8,1854.7 927.1,1830.7 927.4,1837.4 927.7,1842.2 928.0,1848.5 928.3,1843.7 928.6,1863.9 928.9,1856.6 929.2,1868.0 929.5,1868.5 929.7,1869.0 930.0,1859.9 930.3,1837.1 930.6,1837.8 930.9,1849.3 931.2,1850.0 931.5,1842.7 931.8,1853.0 932.0,1871.5 932.3,1871.8 932.6,1865.2 932.9,1855.7 933.2,1849.3 933.5,1848.0 933.7,1842.7 934.0,1857.6 934.3,1839.2 934.6,1843.5 934.9,1848.8 935.1,1873.3 935.4,1871.6 935.7,1856.1 936.0,1858.1 936.3,1863.3 936.5,1844.3 936.8,1865.3 937.1,1862.9 937.4,1834.4 937.7,1846.8 937.9,1845.5 938.2,1837.1 938.5,1835.3 938.8,1850.5 939.0,1850.4 939.3,1847.0 939.6,1836.2 939.8,1864.0 940.1,1864.4 940.4,1856.4 940.7,1855.9 940.9,1864.8 941.2,1837.2 941.5,1862.5 941.7,1841.2 942.0,1872.6 942.3,1873.6 942.6,1882.2 942.8,1883.1 943.1,1880.2 943.4,1863.9 943.6,1872.5 943.9,1853.3 944.2,1843.3 944.4,1858.1 944.7,1872.7 945.0,1853.8 945.2,1849.9 945.5,1839.8 945.8,1840.1 946.0,1875.6 946.3,1870.7 946.5,1888.0 946.8,1858.5 947.1,1868.9 947.3,1885.2 947.6,1887.5 947.9,1855.1 948.1,1873.3 948.4,1852.4 948.6,1868.2 948.9,1851.6 949.2,1846.4 949.4,1842.2 949.7,1850.0 949.9,1892.4 950.2,1892.5 950.5,1883.0 950.7,1866.7 951.0,1848.5 951.2,1847.7 951.5,1839.8 951.7,1831.4 952.0,1824.8 952.2,1831.7 952.5,1831.5 952.8,1833.2 953.0,1836.2 953.3,1847.1 953.5,1855.4 953.8,1845.4 954.0,1863.5 954.3,1890.7 954.5,1858.7 954.8,1847.4 955.0,1880.4 955.3,1866.7 955.5,1898.0 955.8,1895.3 956.0,1898.5 956.3,1882.4 956.5,1879.0 956.8,1881.7 957.0,1880.1 957.3,1897.6 957.5,1856.5 957.8,1891.6 958.0,1883.4 958.3,1875.1 958.5,1863.2 958.8,1868.6 959.0,1849.7 959.2,1849.9 959.5,1854.8 959.7,1850.3 960.0,1855.1 960.2,1876.6 960.5,1875.2 960.7,1866.7 961.0,1859.8 961.2,1854.1 961.4,1847.7 961.7,1839.1 961.9,1834.8 962.2,1843.3 962.4,1857.1 962.6,1870.4 962.9,1880.8 963.1,1890.2 963.4,1896.4 963.6,1904.8 963.8,1906.8 964.1,1909.8 964.3,1908.5 964.6,1908.6 964.8,1908.1 965.0,1880.5 965.3,1876.1 965.5,1867.9 965.8,1877.3 966.0,1894.2 966.2,1870.7 966.5,1900.7 966.7,1883.2 966.9,1866.4 967.2,1867.9 967.4,1860.9 967.6,1887.7 967.9,1871.0 968.1,1876.3 968.3,1867.8 968.6,1893.5 968.8,1877.7 969.0,1874.9 969.3,1885.8 969.5,1893.2 969.7,1896.4 970.0,1882.0 970.2,1872.9 970.4,1882.0 970.7,1878.3 970.9,1872.3 971.1,1869.9 971.3,1867.2 971.6,1860.9 971.8,1861.8 972.0,1859.8 972.3,1860.7 972.5,1859.2 972.7,1861.3 972.9,1863.7 973.2,1864.3 973.4,1857.8 973.6,1857.4 973.9,1862.3 974.1,1856.9 974.3,1868.8 974.5,1880.5 974.8,1871.4 975.0,1856.5" fill="none" stroke="#00A0FF" stroke-width="3.5" stroke-linejoin="round" stroke-linecap="round"/>
</g>
<rect x="137.40" y="1362.70" width="852.10" height="611.30" fill="none" stroke="#000" stroke-width="1.8"/>
<path d="M137.40 1971.59h6.0 M137.40 1958.68h6.0 M137.40 1948.14h6.0 M137.40 1939.23h6.0 M137.40 1931.50h6.0 M137.40 1924.69h6.0 M137.40 1918.60h12.3 M137.40 1878.52h6.0 M137.40 1855.07h6.0 M137.40 1838.44h6.0 M137.40 1825.53h6.0 M137.40 1814.99h6.0 M137.40 1806.08h6.0 M137.40 1798.35h6.0 M137.40 1791.54h6.0 M137.40 1785.45h12.3 M137.40 1745.37h6.0 M137.40 1721.92h6.0 M137.40 1705.29h6.0 M137.40 1692.38h6.0 M137.40 1681.84h6.0 M137.40 1672.93h6.0 M137.40 1665.20h6.0 M137.40 1658.39h6.0 M137.40 1652.30h12.3 M137.40 1612.22h6.0 M137.40 1588.77h6.0 M137.40 1572.14h6.0 M137.40 1559.23h6.0 M137.40 1548.69h6.0 M137.40 1539.78h6.0 M137.40 1532.05h6.0 M137.40 1525.24h6.0 M137.40 1519.15h12.3 M137.40 1479.07h6.0 M137.40 1455.62h6.0 M137.40 1438.99h6.0 M137.40 1426.08h6.0 M137.40 1415.54h6.0 M137.40 1406.63h6.0 M137.40 1398.90h6.0 M137.40 1392.09h6.0 M137.40 1386.00h12.3 M263.23 1974.00v-6 M389.06 1974.00v-6 M555.40 1974.00v-12 M681.23 1974.00v-6 M807.06 1974.00v-6 M973.40 1974.00v-12" stroke="#000" stroke-width="1.8" fill="none"/>
<text x="124.20" y="1917.80" font-size="20.5" text-anchor="end">-10</text>
<text x="95.28" y="1929.90" font-size="31" text-anchor="end">10</text>
<text x="124.20" y="1784.65" font-size="20.5" text-anchor="end">-9</text>
<text x="106.68" y="1796.75" font-size="31" text-anchor="end">10</text>
<text x="124.20" y="1651.50" font-size="20.5" text-anchor="end">-8</text>
<text x="106.68" y="1663.60" font-size="31" text-anchor="end">10</text>
<text x="124.20" y="1518.35" font-size="20.5" text-anchor="end">-7</text>
<text x="106.68" y="1530.45" font-size="31" text-anchor="end">10</text>
<text x="124.20" y="1385.20" font-size="20.5" text-anchor="end">-6</text>
<text x="106.68" y="1397.30" font-size="31" text-anchor="end">10</text>
<text x="136.90" y="2010.90" font-size="31" text-anchor="middle">1</text>
<text x="262.73" y="2010.90" font-size="31" text-anchor="middle">2</text>
<text x="388.56" y="2010.90" font-size="31" text-anchor="middle">4</text>
<text x="554.90" y="2010.90" font-size="31" text-anchor="middle">10</text>
<text x="680.73" y="2010.90" font-size="31" text-anchor="middle">20</text>
<text x="806.56" y="2010.90" font-size="31" text-anchor="middle">40</text>
<text x="972.90" y="2010.90" font-size="31" text-anchor="middle">100</text>
<text transform="translate(47.40,1667.85) rotate(-90)" font-size="35.5" text-anchor="middle">Velocity (m/s√Hz)</text>
<text x="3.50" y="1392.70" font-size="34.5" font-weight="bold">(c)</text>
<text x="197.60" y="1771.70" font-size="29.8">Y direction</text>
<line x1="199.40" y1="1807.50" x2="239.80" y2="1807.50" stroke="#808080" stroke-width="3.6" stroke-linecap="round"/>
<text x="262.10" y="1818.20" font-size="29.8">Pre-construction</text>
<line x1="199.40" y1="1845.40" x2="239.80" y2="1845.40" stroke="#404040" stroke-width="3.6" stroke-linecap="round"/>
<text x="262.10" y="1855.60" font-size="29.8">Isolated foundation</text>
<line x1="199.40" y1="1883.30" x2="239.80" y2="1883.30" stroke="#00A0FF" stroke-width="3.6" stroke-linecap="round"/>
<text x="262.10" y="1893.00" font-size="29.8">Floating block</text>
<text x="564.5" y="2064.8" font-size="34.5" text-anchor="middle">Frequency (Hz)</text>
</svg>
</body></html>
